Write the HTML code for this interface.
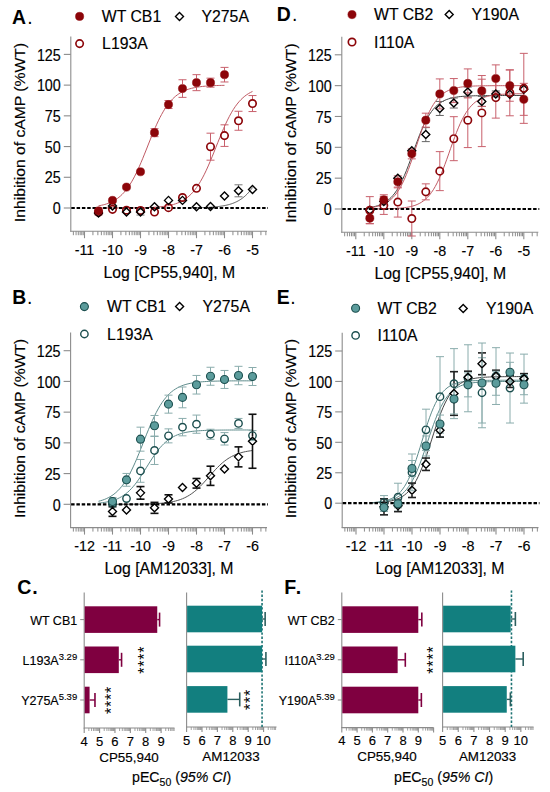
<!DOCTYPE html><html><head><meta charset="utf-8"><style>html,body{margin:0;padding:0;background:#fff;width:550px;height:792px;overflow:hidden}svg{display:block}</style></head><body><svg width="550" height="792" viewBox="0 0 550 792">
<rect width="550" height="792" fill="#fff"/>
<style>text{stroke:#000;stroke-width:0.15px}text.pl{stroke:none}</style>
<g font-family='"Liberation Sans", sans-serif' fill="#000">
<line x1="70.8" y1="36.5" x2="70.8" y2="231.7" stroke="#8c8c8c" stroke-width="1.1" />
<line x1="70.3" y1="231.2" x2="267" y2="231.2" stroke="#8c8c8c" stroke-width="1.1" />
<line x1="63.8" y1="208" x2="70.8" y2="208" stroke="#8c8c8c" stroke-width="1.1" />
<text transform="translate(60.8,214.2) scale(0.92,1)" font-size="15.6" text-anchor="end">0</text>
<line x1="63.8" y1="177.28" x2="70.8" y2="177.28" stroke="#8c8c8c" stroke-width="1.1" />
<text transform="translate(60.8,183.48) scale(0.92,1)" font-size="15.6" text-anchor="end">25</text>
<line x1="63.8" y1="146.56" x2="70.8" y2="146.56" stroke="#8c8c8c" stroke-width="1.1" />
<text transform="translate(60.8,152.76) scale(0.92,1)" font-size="15.6" text-anchor="end">50</text>
<line x1="63.8" y1="115.84" x2="70.8" y2="115.84" stroke="#8c8c8c" stroke-width="1.1" />
<text transform="translate(60.8,122.04) scale(0.92,1)" font-size="15.6" text-anchor="end">75</text>
<line x1="63.8" y1="85.12" x2="70.8" y2="85.12" stroke="#8c8c8c" stroke-width="1.1" />
<text transform="translate(60.8,91.32) scale(0.92,1)" font-size="15.6" text-anchor="end">100</text>
<line x1="63.8" y1="54.4" x2="70.8" y2="54.4" stroke="#8c8c8c" stroke-width="1.1" />
<text transform="translate(60.8,60.6) scale(0.92,1)" font-size="15.6" text-anchor="end">125</text>
<line x1="73.36" y1="231.2" x2="73.36" y2="235.2" stroke="#8c8c8c" stroke-width="1.0" />
<line x1="76.07" y1="231.2" x2="76.07" y2="235.2" stroke="#8c8c8c" stroke-width="1.0" />
<line x1="78.29" y1="231.2" x2="78.29" y2="235.2" stroke="#8c8c8c" stroke-width="1.0" />
<line x1="80.16" y1="231.2" x2="80.16" y2="235.2" stroke="#8c8c8c" stroke-width="1.0" />
<line x1="81.79" y1="231.2" x2="81.79" y2="235.2" stroke="#8c8c8c" stroke-width="1.0" />
<line x1="83.22" y1="231.2" x2="83.22" y2="235.2" stroke="#8c8c8c" stroke-width="1.0" />
<line x1="84.5" y1="231.2" x2="84.5" y2="238.2" stroke="#8c8c8c" stroke-width="1.1" />
<line x1="92.93" y1="231.2" x2="92.93" y2="235.2" stroke="#8c8c8c" stroke-width="1.0" />
<line x1="97.86" y1="231.2" x2="97.86" y2="235.2" stroke="#8c8c8c" stroke-width="1.0" />
<line x1="101.36" y1="231.2" x2="101.36" y2="235.2" stroke="#8c8c8c" stroke-width="1.0" />
<line x1="104.07" y1="231.2" x2="104.07" y2="235.2" stroke="#8c8c8c" stroke-width="1.0" />
<line x1="106.29" y1="231.2" x2="106.29" y2="235.2" stroke="#8c8c8c" stroke-width="1.0" />
<line x1="108.16" y1="231.2" x2="108.16" y2="235.2" stroke="#8c8c8c" stroke-width="1.0" />
<line x1="109.79" y1="231.2" x2="109.79" y2="235.2" stroke="#8c8c8c" stroke-width="1.0" />
<line x1="111.22" y1="231.2" x2="111.22" y2="235.2" stroke="#8c8c8c" stroke-width="1.0" />
<line x1="112.5" y1="231.2" x2="112.5" y2="238.2" stroke="#8c8c8c" stroke-width="1.1" />
<line x1="120.93" y1="231.2" x2="120.93" y2="235.2" stroke="#8c8c8c" stroke-width="1.0" />
<line x1="125.86" y1="231.2" x2="125.86" y2="235.2" stroke="#8c8c8c" stroke-width="1.0" />
<line x1="129.36" y1="231.2" x2="129.36" y2="235.2" stroke="#8c8c8c" stroke-width="1.0" />
<line x1="132.07" y1="231.2" x2="132.07" y2="235.2" stroke="#8c8c8c" stroke-width="1.0" />
<line x1="134.29" y1="231.2" x2="134.29" y2="235.2" stroke="#8c8c8c" stroke-width="1.0" />
<line x1="136.16" y1="231.2" x2="136.16" y2="235.2" stroke="#8c8c8c" stroke-width="1.0" />
<line x1="137.79" y1="231.2" x2="137.79" y2="235.2" stroke="#8c8c8c" stroke-width="1.0" />
<line x1="139.22" y1="231.2" x2="139.22" y2="235.2" stroke="#8c8c8c" stroke-width="1.0" />
<line x1="140.5" y1="231.2" x2="140.5" y2="238.2" stroke="#8c8c8c" stroke-width="1.1" />
<line x1="148.93" y1="231.2" x2="148.93" y2="235.2" stroke="#8c8c8c" stroke-width="1.0" />
<line x1="153.86" y1="231.2" x2="153.86" y2="235.2" stroke="#8c8c8c" stroke-width="1.0" />
<line x1="157.36" y1="231.2" x2="157.36" y2="235.2" stroke="#8c8c8c" stroke-width="1.0" />
<line x1="160.07" y1="231.2" x2="160.07" y2="235.2" stroke="#8c8c8c" stroke-width="1.0" />
<line x1="162.29" y1="231.2" x2="162.29" y2="235.2" stroke="#8c8c8c" stroke-width="1.0" />
<line x1="164.16" y1="231.2" x2="164.16" y2="235.2" stroke="#8c8c8c" stroke-width="1.0" />
<line x1="165.79" y1="231.2" x2="165.79" y2="235.2" stroke="#8c8c8c" stroke-width="1.0" />
<line x1="167.22" y1="231.2" x2="167.22" y2="235.2" stroke="#8c8c8c" stroke-width="1.0" />
<line x1="168.5" y1="231.2" x2="168.5" y2="238.2" stroke="#8c8c8c" stroke-width="1.1" />
<line x1="176.93" y1="231.2" x2="176.93" y2="235.2" stroke="#8c8c8c" stroke-width="1.0" />
<line x1="181.86" y1="231.2" x2="181.86" y2="235.2" stroke="#8c8c8c" stroke-width="1.0" />
<line x1="185.36" y1="231.2" x2="185.36" y2="235.2" stroke="#8c8c8c" stroke-width="1.0" />
<line x1="188.07" y1="231.2" x2="188.07" y2="235.2" stroke="#8c8c8c" stroke-width="1.0" />
<line x1="190.29" y1="231.2" x2="190.29" y2="235.2" stroke="#8c8c8c" stroke-width="1.0" />
<line x1="192.16" y1="231.2" x2="192.16" y2="235.2" stroke="#8c8c8c" stroke-width="1.0" />
<line x1="193.79" y1="231.2" x2="193.79" y2="235.2" stroke="#8c8c8c" stroke-width="1.0" />
<line x1="195.22" y1="231.2" x2="195.22" y2="235.2" stroke="#8c8c8c" stroke-width="1.0" />
<line x1="196.5" y1="231.2" x2="196.5" y2="238.2" stroke="#8c8c8c" stroke-width="1.1" />
<line x1="204.93" y1="231.2" x2="204.93" y2="235.2" stroke="#8c8c8c" stroke-width="1.0" />
<line x1="209.86" y1="231.2" x2="209.86" y2="235.2" stroke="#8c8c8c" stroke-width="1.0" />
<line x1="213.36" y1="231.2" x2="213.36" y2="235.2" stroke="#8c8c8c" stroke-width="1.0" />
<line x1="216.07" y1="231.2" x2="216.07" y2="235.2" stroke="#8c8c8c" stroke-width="1.0" />
<line x1="218.29" y1="231.2" x2="218.29" y2="235.2" stroke="#8c8c8c" stroke-width="1.0" />
<line x1="220.16" y1="231.2" x2="220.16" y2="235.2" stroke="#8c8c8c" stroke-width="1.0" />
<line x1="221.79" y1="231.2" x2="221.79" y2="235.2" stroke="#8c8c8c" stroke-width="1.0" />
<line x1="223.22" y1="231.2" x2="223.22" y2="235.2" stroke="#8c8c8c" stroke-width="1.0" />
<line x1="224.5" y1="231.2" x2="224.5" y2="238.2" stroke="#8c8c8c" stroke-width="1.1" />
<line x1="232.93" y1="231.2" x2="232.93" y2="235.2" stroke="#8c8c8c" stroke-width="1.0" />
<line x1="237.86" y1="231.2" x2="237.86" y2="235.2" stroke="#8c8c8c" stroke-width="1.0" />
<line x1="241.36" y1="231.2" x2="241.36" y2="235.2" stroke="#8c8c8c" stroke-width="1.0" />
<line x1="244.07" y1="231.2" x2="244.07" y2="235.2" stroke="#8c8c8c" stroke-width="1.0" />
<line x1="246.29" y1="231.2" x2="246.29" y2="235.2" stroke="#8c8c8c" stroke-width="1.0" />
<line x1="248.16" y1="231.2" x2="248.16" y2="235.2" stroke="#8c8c8c" stroke-width="1.0" />
<line x1="249.79" y1="231.2" x2="249.79" y2="235.2" stroke="#8c8c8c" stroke-width="1.0" />
<line x1="251.22" y1="231.2" x2="251.22" y2="235.2" stroke="#8c8c8c" stroke-width="1.0" />
<line x1="252.5" y1="231.2" x2="252.5" y2="238.2" stroke="#8c8c8c" stroke-width="1.1" />
<line x1="260.93" y1="231.2" x2="260.93" y2="235.2" stroke="#8c8c8c" stroke-width="1.0" />
<line x1="265.86" y1="231.2" x2="265.86" y2="235.2" stroke="#8c8c8c" stroke-width="1.0" />
<text transform="translate(84.5,254.7) scale(0.93,1)" font-size="15.4" text-anchor="middle">-11</text>
<text transform="translate(112.5,254.7) scale(0.93,1)" font-size="15.4" text-anchor="middle">-10</text>
<text transform="translate(140.5,254.7) scale(0.93,1)" font-size="15.4" text-anchor="middle">-9</text>
<text transform="translate(168.5,254.7) scale(0.93,1)" font-size="15.4" text-anchor="middle">-8</text>
<text transform="translate(196.5,254.7) scale(0.93,1)" font-size="15.4" text-anchor="middle">-7</text>
<text transform="translate(224.5,254.7) scale(0.93,1)" font-size="15.4" text-anchor="middle">-6</text>
<text transform="translate(252.5,254.7) scale(0.93,1)" font-size="15.4" text-anchor="middle">-5</text>
<text x="103.4" y="278" font-size="15.8" text-anchor="start" font-weight="normal" font-style="normal" >Log [CP55,940], M</text>
<text transform="translate(24.5,132.5) rotate(-90) scale(1,0.95)" font-size="15.7" text-anchor="middle">Inhibition of cAMP (%WT)</text>
<polyline points="98.5,207.99 100.42,207.99 102.35,207.99 104.28,207.99 106.2,207.99 108.12,207.98 110.05,207.98 111.97,207.98 113.9,207.97 115.83,207.97 117.75,207.96 119.67,207.96 121.6,207.95 123.53,207.94 125.45,207.93 127.38,207.92 129.3,207.9 131.22,207.89 133.15,207.87 135.08,207.84 137,207.82 138.92,207.79 140.85,207.75 142.78,207.71 144.7,207.66 146.62,207.6 148.55,207.53 150.47,207.45 152.4,207.35 154.33,207.24 156.25,207.11 158.17,206.96 160.1,206.79 162.03,206.58 163.95,206.34 165.88,206.06 167.8,205.74 169.73,205.36 171.65,204.92 173.58,204.4 175.5,203.81 177.42,203.12 179.35,202.32 181.27,201.39 183.2,200.33 185.12,199.11 187.05,197.72 188.98,196.12 190.9,194.32 192.83,192.27 194.75,189.97 196.67,187.4 198.6,184.54 200.52,181.39 202.45,177.95 204.38,174.22 206.3,170.21 208.23,165.96 210.15,161.49 212.08,156.84 214,152.08 215.92,147.25 217.85,142.41 219.78,137.63 221.7,132.96 223.62,128.45 225.55,124.16 227.47,120.1 229.4,116.32 231.33,112.82 233.25,109.62 235.17,106.71 237.1,104.09 239.03,101.74 240.95,99.65 242.88,97.8 244.8,96.17 246.72,94.74 248.65,93.49 250.58,92.4 252.5,91.45" fill="none" stroke="#c05a64" stroke-width="1.0"/>
<polyline points="190.9,207.85 191.67,207.84 192.44,207.82 193.21,207.81 193.98,207.8 194.75,207.79 195.52,207.77 196.29,207.76 197.06,207.74 197.83,207.73 198.6,207.71 199.37,207.69 200.14,207.67 200.91,207.65 201.68,207.63 202.45,207.6 203.22,207.58 203.99,207.55 204.76,207.52 205.53,207.49 206.3,207.45 207.07,207.42 207.84,207.38 208.61,207.34 209.38,207.3 210.15,207.25 210.92,207.2 211.69,207.15 212.46,207.1 213.23,207.04 214,206.97 214.77,206.91 215.54,206.84 216.31,206.76 217.08,206.68 217.85,206.6 218.62,206.51 219.39,206.41 220.16,206.31 220.93,206.2 221.7,206.08 222.47,205.96 223.24,205.83 224.01,205.69 224.78,205.54 225.55,205.38 226.32,205.22 227.09,205.04 227.86,204.85 228.63,204.65 229.4,204.44 230.17,204.21 230.94,203.97 231.71,203.72 232.48,203.45 233.25,203.16 234.02,202.86 234.79,202.54 235.56,202.2 236.33,201.84 237.1,201.46 237.87,201.05 238.64,200.63 239.41,200.18 240.18,199.7 240.95,199.2 241.72,198.66 242.49,198.1 243.26,197.51 244.03,196.89 244.8,196.23 245.57,195.54 246.34,194.81 247.11,194.05 247.88,193.25 248.65,192.4 249.42,191.52 250.19,190.6 250.96,189.63 251.73,188.62 252.5,187.56" fill="none" stroke="#555" stroke-width="1.0"/>
<polyline points="98.5,205.85 100.08,205.56 101.65,205.23 103.22,204.86 104.8,204.44 106.38,203.96 107.95,203.42 109.53,202.82 111.1,202.14 112.67,201.37 114.25,200.51 115.83,199.54 117.4,198.46 118.97,197.26 120.55,195.92 122.12,194.43 123.7,192.79 125.28,190.98 126.85,188.99 128.42,186.81 130,184.45 131.58,181.88 133.15,179.12 134.72,176.16 136.3,173.01 137.88,169.68 139.45,166.18 141.03,162.54 142.6,158.77 144.17,154.91 145.75,150.97 147.33,147 148.9,143.03 150.47,139.08 152.05,135.2 153.62,131.41 155.2,127.73 156.78,124.2 158.35,120.83 159.92,117.64 161.5,114.64 163.08,111.84 164.65,109.23 166.22,106.82 167.8,104.6 169.38,102.57 170.95,100.72 172.52,99.04 174.1,97.52 175.67,96.15 177.25,94.91 178.83,93.81 180.4,92.82 181.98,91.93 183.55,91.15 185.12,90.45 186.7,89.82 188.27,89.27 189.85,88.78 191.42,88.35 193,87.97 194.58,87.63 196.15,87.33 197.73,87.06 199.3,86.83 200.88,86.63 202.45,86.45 204.02,86.29 205.6,86.15 207.17,86.02 208.75,85.91 210.33,85.82 211.9,85.73 213.47,85.66 215.05,85.59 216.62,85.54 218.2,85.49 219.78,85.44 221.35,85.4 222.92,85.37 224.5,85.34" fill="none" stroke="#c05a64" stroke-width="1.0"/>
<line x1="71.3" y1="208" x2="268" y2="208" stroke="#000" stroke-width="2.2" stroke-dasharray="3.5 1.8"/>
<line x1="210.5" y1="133.18" x2="210.5" y2="142.16" stroke="#c8606c" stroke-width="1.0" />
<line x1="210.5" y1="151.21" x2="210.5" y2="160.18" stroke="#c8606c" stroke-width="1.0" />
<line x1="206.5" y1="133.18" x2="214.5" y2="133.18" stroke="#c8606c" stroke-width="1.0" />
<line x1="206.5" y1="160.18" x2="214.5" y2="160.18" stroke="#c8606c" stroke-width="1.0" />
<line x1="224.5" y1="124.82" x2="224.5" y2="131.1" stroke="#c8606c" stroke-width="1.0" />
<line x1="224.5" y1="140.15" x2="224.5" y2="146.42" stroke="#c8606c" stroke-width="1.0" />
<line x1="220.5" y1="124.82" x2="228.5" y2="124.82" stroke="#c8606c" stroke-width="1.0" />
<line x1="220.5" y1="146.42" x2="228.5" y2="146.42" stroke="#c8606c" stroke-width="1.0" />
<line x1="238.5" y1="111.26" x2="238.5" y2="116.23" stroke="#c8606c" stroke-width="1.0" />
<line x1="238.5" y1="125.28" x2="238.5" y2="130.26" stroke="#c8606c" stroke-width="1.0" />
<line x1="234.5" y1="111.26" x2="242.5" y2="111.26" stroke="#c8606c" stroke-width="1.0" />
<line x1="234.5" y1="130.26" x2="242.5" y2="130.26" stroke="#c8606c" stroke-width="1.0" />
<line x1="252.5" y1="95.55" x2="252.5" y2="99.03" stroke="#c8606c" stroke-width="1.0" />
<line x1="252.5" y1="108.08" x2="252.5" y2="111.55" stroke="#c8606c" stroke-width="1.0" />
<line x1="248.5" y1="95.55" x2="256.5" y2="95.55" stroke="#c8606c" stroke-width="1.0" />
<line x1="248.5" y1="111.55" x2="256.5" y2="111.55" stroke="#c8606c" stroke-width="1.0" />
<line x1="94.5" y1="210.92" x2="102.5" y2="210.92" stroke="#777" stroke-width="1.0" />
<line x1="94.5" y1="214.92" x2="102.5" y2="214.92" stroke="#777" stroke-width="1.0" />
<line x1="136.5" y1="209.06" x2="144.5" y2="209.06" stroke="#777" stroke-width="1.0" />
<line x1="136.5" y1="215.06" x2="144.5" y2="215.06" stroke="#777" stroke-width="1.0" />
<line x1="238.5" y1="184.8" x2="238.5" y2="186.1" stroke="#777" stroke-width="1.0" />
<line x1="238.5" y1="195.5" x2="238.5" y2="196.8" stroke="#777" stroke-width="1.0" />
<line x1="234.5" y1="184.8" x2="242.5" y2="184.8" stroke="#777" stroke-width="1.0" />
<line x1="234.5" y1="196.8" x2="242.5" y2="196.8" stroke="#777" stroke-width="1.0" />
<line x1="150.5" y1="128.67" x2="158.5" y2="128.67" stroke="#c8606c" stroke-width="1.0" />
<line x1="150.5" y1="136.67" x2="158.5" y2="136.67" stroke="#c8606c" stroke-width="1.0" />
<line x1="164.5" y1="100.54" x2="172.5" y2="100.54" stroke="#c8606c" stroke-width="1.0" />
<line x1="164.5" y1="108.54" x2="172.5" y2="108.54" stroke="#c8606c" stroke-width="1.0" />
<line x1="182.5" y1="79.76" x2="182.5" y2="84.21" stroke="#c8606c" stroke-width="1.0" />
<line x1="182.5" y1="92.91" x2="182.5" y2="97.36" stroke="#c8606c" stroke-width="1.0" />
<line x1="178.5" y1="79.76" x2="186.5" y2="79.76" stroke="#c8606c" stroke-width="1.0" />
<line x1="178.5" y1="97.36" x2="186.5" y2="97.36" stroke="#c8606c" stroke-width="1.0" />
<line x1="196.5" y1="74.66" x2="196.5" y2="78.31" stroke="#c8606c" stroke-width="1.0" />
<line x1="196.5" y1="87.01" x2="196.5" y2="90.66" stroke="#c8606c" stroke-width="1.0" />
<line x1="192.5" y1="74.66" x2="200.5" y2="74.66" stroke="#c8606c" stroke-width="1.0" />
<line x1="192.5" y1="90.66" x2="200.5" y2="90.66" stroke="#c8606c" stroke-width="1.0" />
<line x1="210.5" y1="78.16" x2="210.5" y2="78.31" stroke="#c8606c" stroke-width="1.0" />
<line x1="210.5" y1="87.01" x2="210.5" y2="87.16" stroke="#c8606c" stroke-width="1.0" />
<line x1="206.5" y1="78.16" x2="214.5" y2="78.16" stroke="#c8606c" stroke-width="1.0" />
<line x1="206.5" y1="87.16" x2="214.5" y2="87.16" stroke="#c8606c" stroke-width="1.0" />
<line x1="224.5" y1="67.38" x2="224.5" y2="70.33" stroke="#c8606c" stroke-width="1.0" />
<line x1="224.5" y1="79.03" x2="224.5" y2="81.98" stroke="#c8606c" stroke-width="1.0" />
<line x1="220.5" y1="67.38" x2="228.5" y2="67.38" stroke="#c8606c" stroke-width="1.0" />
<line x1="220.5" y1="81.98" x2="228.5" y2="81.98" stroke="#c8606c" stroke-width="1.0" />
<circle cx="98.5" cy="212.42" r="3.7" fill="none" stroke="#8c0509" stroke-width="1.65"/>
<circle cx="112.5" cy="209.35" r="3.7" fill="none" stroke="#8c0509" stroke-width="1.65"/>
<circle cx="126.5" cy="210.21" r="3.7" fill="none" stroke="#8c0509" stroke-width="1.65"/>
<circle cx="140.5" cy="210.46" r="3.7" fill="none" stroke="#8c0509" stroke-width="1.65"/>
<circle cx="154.5" cy="212.06" r="3.7" fill="none" stroke="#8c0509" stroke-width="1.65"/>
<circle cx="168.5" cy="207.63" r="3.7" fill="none" stroke="#8c0509" stroke-width="1.65"/>
<circle cx="182.5" cy="197.56" r="3.7" fill="none" stroke="#8c0509" stroke-width="1.65"/>
<circle cx="196.5" cy="188.34" r="3.7" fill="none" stroke="#8c0509" stroke-width="1.65"/>
<circle cx="210.5" cy="146.68" r="3.7" fill="none" stroke="#8c0509" stroke-width="1.65"/>
<circle cx="224.5" cy="135.62" r="3.7" fill="none" stroke="#8c0509" stroke-width="1.65"/>
<circle cx="238.5" cy="120.76" r="3.7" fill="none" stroke="#8c0509" stroke-width="1.65"/>
<circle cx="252.5" cy="103.55" r="3.7" fill="none" stroke="#8c0509" stroke-width="1.65"/>
<path d="M98.5 208.92 L102.5 212.92 L98.5 216.92 L94.5 212.92 Z" fill="none" stroke="#000" stroke-width="1.4"/>
<path d="M112.5 202.03 L116.5 206.03 L112.5 210.03 L108.5 206.03 Z" fill="none" stroke="#000" stroke-width="1.4"/>
<path d="M126.5 208.06 L130.5 212.06 L126.5 216.06 L122.5 212.06 Z" fill="none" stroke="#000" stroke-width="1.4"/>
<path d="M140.5 208.06 L144.5 212.06 L140.5 216.06 L136.5 212.06 Z" fill="none" stroke="#000" stroke-width="1.4"/>
<path d="M154.5 202.65 L158.5 206.65 L154.5 210.65 L150.5 206.65 Z" fill="none" stroke="#000" stroke-width="1.4"/>
<path d="M168.5 196.38 L172.5 200.38 L168.5 204.38 L164.5 200.38 Z" fill="none" stroke="#000" stroke-width="1.4"/>
<path d="M182.5 196.38 L186.5 200.38 L182.5 204.38 L178.5 200.38 Z" fill="none" stroke="#000" stroke-width="1.4"/>
<path d="M196.5 202.77 L200.5 206.77 L196.5 210.77 L192.5 206.77 Z" fill="none" stroke="#000" stroke-width="1.4"/>
<path d="M210.5 202.53 L214.5 206.53 L210.5 210.53 L206.5 206.53 Z" fill="none" stroke="#000" stroke-width="1.4"/>
<path d="M224.5 191.96 L228.5 195.96 L224.5 199.96 L220.5 195.96 Z" fill="none" stroke="#000" stroke-width="1.4"/>
<path d="M238.5 186.8 L242.5 190.8 L238.5 194.8 L234.5 190.8 Z" fill="none" stroke="#000" stroke-width="1.4"/>
<path d="M252.5 185.57 L256.5 189.57 L252.5 193.57 L248.5 189.57 Z" fill="none" stroke="#000" stroke-width="1.4"/>
<circle cx="98.5" cy="210.95" r="4.1" fill="#8c0509" stroke="#8c0509" stroke-width="0.5"/>
<circle cx="112.5" cy="200.38" r="4.1" fill="#8c0509" stroke="#8c0509" stroke-width="0.5"/>
<circle cx="126.5" cy="187.11" r="4.1" fill="#8c0509" stroke="#8c0509" stroke-width="0.5"/>
<circle cx="140.5" cy="171.75" r="4.1" fill="#8c0509" stroke="#8c0509" stroke-width="0.5"/>
<circle cx="154.5" cy="132.67" r="4.1" fill="#8c0509" stroke="#8c0509" stroke-width="0.5"/>
<circle cx="168.5" cy="104.54" r="4.1" fill="#8c0509" stroke="#8c0509" stroke-width="0.5"/>
<circle cx="182.5" cy="88.56" r="4.1" fill="#8c0509" stroke="#8c0509" stroke-width="0.5"/>
<circle cx="196.5" cy="82.66" r="4.1" fill="#8c0509" stroke="#8c0509" stroke-width="0.5"/>
<circle cx="210.5" cy="82.66" r="4.1" fill="#8c0509" stroke="#8c0509" stroke-width="0.5"/>
<circle cx="224.5" cy="74.68" r="4.1" fill="#8c0509" stroke="#8c0509" stroke-width="0.5"/>
<line x1="70.6" y1="332.5" x2="70.6" y2="528.1" stroke="#8c8c8c" stroke-width="1.1" />
<line x1="70.1" y1="527.6" x2="267" y2="527.6" stroke="#8c8c8c" stroke-width="1.1" />
<line x1="63.6" y1="504.3" x2="70.6" y2="504.3" stroke="#8c8c8c" stroke-width="1.1" />
<text transform="translate(60.6,510.5) scale(0.92,1)" font-size="15.6" text-anchor="end">0</text>
<line x1="63.6" y1="473.58" x2="70.6" y2="473.58" stroke="#8c8c8c" stroke-width="1.1" />
<text transform="translate(60.6,479.78) scale(0.92,1)" font-size="15.6" text-anchor="end">25</text>
<line x1="63.6" y1="442.86" x2="70.6" y2="442.86" stroke="#8c8c8c" stroke-width="1.1" />
<text transform="translate(60.6,449.06) scale(0.92,1)" font-size="15.6" text-anchor="end">50</text>
<line x1="63.6" y1="412.14" x2="70.6" y2="412.14" stroke="#8c8c8c" stroke-width="1.1" />
<text transform="translate(60.6,418.34) scale(0.92,1)" font-size="15.6" text-anchor="end">75</text>
<line x1="63.6" y1="381.42" x2="70.6" y2="381.42" stroke="#8c8c8c" stroke-width="1.1" />
<text transform="translate(60.6,387.62) scale(0.92,1)" font-size="15.6" text-anchor="end">100</text>
<line x1="63.6" y1="350.7" x2="70.6" y2="350.7" stroke="#8c8c8c" stroke-width="1.1" />
<text transform="translate(60.6,356.9) scale(0.92,1)" font-size="15.6" text-anchor="end">125</text>
<line x1="73.36" y1="527.6" x2="73.36" y2="531.6" stroke="#8c8c8c" stroke-width="1.0" />
<line x1="76.07" y1="527.6" x2="76.07" y2="531.6" stroke="#8c8c8c" stroke-width="1.0" />
<line x1="78.29" y1="527.6" x2="78.29" y2="531.6" stroke="#8c8c8c" stroke-width="1.0" />
<line x1="80.16" y1="527.6" x2="80.16" y2="531.6" stroke="#8c8c8c" stroke-width="1.0" />
<line x1="81.79" y1="527.6" x2="81.79" y2="531.6" stroke="#8c8c8c" stroke-width="1.0" />
<line x1="83.22" y1="527.6" x2="83.22" y2="531.6" stroke="#8c8c8c" stroke-width="1.0" />
<line x1="84.5" y1="527.6" x2="84.5" y2="534.6" stroke="#8c8c8c" stroke-width="1.1" />
<line x1="92.93" y1="527.6" x2="92.93" y2="531.6" stroke="#8c8c8c" stroke-width="1.0" />
<line x1="97.86" y1="527.6" x2="97.86" y2="531.6" stroke="#8c8c8c" stroke-width="1.0" />
<line x1="101.36" y1="527.6" x2="101.36" y2="531.6" stroke="#8c8c8c" stroke-width="1.0" />
<line x1="104.07" y1="527.6" x2="104.07" y2="531.6" stroke="#8c8c8c" stroke-width="1.0" />
<line x1="106.29" y1="527.6" x2="106.29" y2="531.6" stroke="#8c8c8c" stroke-width="1.0" />
<line x1="108.16" y1="527.6" x2="108.16" y2="531.6" stroke="#8c8c8c" stroke-width="1.0" />
<line x1="109.79" y1="527.6" x2="109.79" y2="531.6" stroke="#8c8c8c" stroke-width="1.0" />
<line x1="111.22" y1="527.6" x2="111.22" y2="531.6" stroke="#8c8c8c" stroke-width="1.0" />
<line x1="112.5" y1="527.6" x2="112.5" y2="534.6" stroke="#8c8c8c" stroke-width="1.1" />
<line x1="120.93" y1="527.6" x2="120.93" y2="531.6" stroke="#8c8c8c" stroke-width="1.0" />
<line x1="125.86" y1="527.6" x2="125.86" y2="531.6" stroke="#8c8c8c" stroke-width="1.0" />
<line x1="129.36" y1="527.6" x2="129.36" y2="531.6" stroke="#8c8c8c" stroke-width="1.0" />
<line x1="132.07" y1="527.6" x2="132.07" y2="531.6" stroke="#8c8c8c" stroke-width="1.0" />
<line x1="134.29" y1="527.6" x2="134.29" y2="531.6" stroke="#8c8c8c" stroke-width="1.0" />
<line x1="136.16" y1="527.6" x2="136.16" y2="531.6" stroke="#8c8c8c" stroke-width="1.0" />
<line x1="137.79" y1="527.6" x2="137.79" y2="531.6" stroke="#8c8c8c" stroke-width="1.0" />
<line x1="139.22" y1="527.6" x2="139.22" y2="531.6" stroke="#8c8c8c" stroke-width="1.0" />
<line x1="140.5" y1="527.6" x2="140.5" y2="534.6" stroke="#8c8c8c" stroke-width="1.1" />
<line x1="148.93" y1="527.6" x2="148.93" y2="531.6" stroke="#8c8c8c" stroke-width="1.0" />
<line x1="153.86" y1="527.6" x2="153.86" y2="531.6" stroke="#8c8c8c" stroke-width="1.0" />
<line x1="157.36" y1="527.6" x2="157.36" y2="531.6" stroke="#8c8c8c" stroke-width="1.0" />
<line x1="160.07" y1="527.6" x2="160.07" y2="531.6" stroke="#8c8c8c" stroke-width="1.0" />
<line x1="162.29" y1="527.6" x2="162.29" y2="531.6" stroke="#8c8c8c" stroke-width="1.0" />
<line x1="164.16" y1="527.6" x2="164.16" y2="531.6" stroke="#8c8c8c" stroke-width="1.0" />
<line x1="165.79" y1="527.6" x2="165.79" y2="531.6" stroke="#8c8c8c" stroke-width="1.0" />
<line x1="167.22" y1="527.6" x2="167.22" y2="531.6" stroke="#8c8c8c" stroke-width="1.0" />
<line x1="168.5" y1="527.6" x2="168.5" y2="534.6" stroke="#8c8c8c" stroke-width="1.1" />
<line x1="176.93" y1="527.6" x2="176.93" y2="531.6" stroke="#8c8c8c" stroke-width="1.0" />
<line x1="181.86" y1="527.6" x2="181.86" y2="531.6" stroke="#8c8c8c" stroke-width="1.0" />
<line x1="185.36" y1="527.6" x2="185.36" y2="531.6" stroke="#8c8c8c" stroke-width="1.0" />
<line x1="188.07" y1="527.6" x2="188.07" y2="531.6" stroke="#8c8c8c" stroke-width="1.0" />
<line x1="190.29" y1="527.6" x2="190.29" y2="531.6" stroke="#8c8c8c" stroke-width="1.0" />
<line x1="192.16" y1="527.6" x2="192.16" y2="531.6" stroke="#8c8c8c" stroke-width="1.0" />
<line x1="193.79" y1="527.6" x2="193.79" y2="531.6" stroke="#8c8c8c" stroke-width="1.0" />
<line x1="195.22" y1="527.6" x2="195.22" y2="531.6" stroke="#8c8c8c" stroke-width="1.0" />
<line x1="196.5" y1="527.6" x2="196.5" y2="534.6" stroke="#8c8c8c" stroke-width="1.1" />
<line x1="204.93" y1="527.6" x2="204.93" y2="531.6" stroke="#8c8c8c" stroke-width="1.0" />
<line x1="209.86" y1="527.6" x2="209.86" y2="531.6" stroke="#8c8c8c" stroke-width="1.0" />
<line x1="213.36" y1="527.6" x2="213.36" y2="531.6" stroke="#8c8c8c" stroke-width="1.0" />
<line x1="216.07" y1="527.6" x2="216.07" y2="531.6" stroke="#8c8c8c" stroke-width="1.0" />
<line x1="218.29" y1="527.6" x2="218.29" y2="531.6" stroke="#8c8c8c" stroke-width="1.0" />
<line x1="220.16" y1="527.6" x2="220.16" y2="531.6" stroke="#8c8c8c" stroke-width="1.0" />
<line x1="221.79" y1="527.6" x2="221.79" y2="531.6" stroke="#8c8c8c" stroke-width="1.0" />
<line x1="223.22" y1="527.6" x2="223.22" y2="531.6" stroke="#8c8c8c" stroke-width="1.0" />
<line x1="224.5" y1="527.6" x2="224.5" y2="534.6" stroke="#8c8c8c" stroke-width="1.1" />
<line x1="232.93" y1="527.6" x2="232.93" y2="531.6" stroke="#8c8c8c" stroke-width="1.0" />
<line x1="237.86" y1="527.6" x2="237.86" y2="531.6" stroke="#8c8c8c" stroke-width="1.0" />
<line x1="241.36" y1="527.6" x2="241.36" y2="531.6" stroke="#8c8c8c" stroke-width="1.0" />
<line x1="244.07" y1="527.6" x2="244.07" y2="531.6" stroke="#8c8c8c" stroke-width="1.0" />
<line x1="246.29" y1="527.6" x2="246.29" y2="531.6" stroke="#8c8c8c" stroke-width="1.0" />
<line x1="248.16" y1="527.6" x2="248.16" y2="531.6" stroke="#8c8c8c" stroke-width="1.0" />
<line x1="249.79" y1="527.6" x2="249.79" y2="531.6" stroke="#8c8c8c" stroke-width="1.0" />
<line x1="251.22" y1="527.6" x2="251.22" y2="531.6" stroke="#8c8c8c" stroke-width="1.0" />
<line x1="252.5" y1="527.6" x2="252.5" y2="534.6" stroke="#8c8c8c" stroke-width="1.1" />
<line x1="260.93" y1="527.6" x2="260.93" y2="531.6" stroke="#8c8c8c" stroke-width="1.0" />
<line x1="265.86" y1="527.6" x2="265.86" y2="531.6" stroke="#8c8c8c" stroke-width="1.0" />
<text transform="translate(84.5,551.1) scale(0.93,1)" font-size="15.4" text-anchor="middle">-12</text>
<text transform="translate(112.5,551.1) scale(0.93,1)" font-size="15.4" text-anchor="middle">-11</text>
<text transform="translate(140.5,551.1) scale(0.93,1)" font-size="15.4" text-anchor="middle">-10</text>
<text transform="translate(168.5,551.1) scale(0.93,1)" font-size="15.4" text-anchor="middle">-9</text>
<text transform="translate(196.5,551.1) scale(0.93,1)" font-size="15.4" text-anchor="middle">-8</text>
<text transform="translate(224.5,551.1) scale(0.93,1)" font-size="15.4" text-anchor="middle">-7</text>
<text transform="translate(252.5,551.1) scale(0.93,1)" font-size="15.4" text-anchor="middle">-6</text>
<text x="104.4" y="574.4" font-size="15.8" text-anchor="start" font-weight="normal" font-style="normal" >Log [AM12033], M</text>
<text transform="translate(24.5,428.3) rotate(-90) scale(1,0.95)" font-size="15.7" text-anchor="middle">Inhibition of cAMP (%WT)</text>
<polyline points="98.5,503.16 100.42,502.95 102.35,502.71 104.28,502.43 106.2,502.11 108.12,501.72 110.05,501.28 111.97,500.76 113.9,500.15 115.83,499.45 117.75,498.64 119.67,497.71 121.6,496.64 123.53,495.42 125.45,494.04 127.38,492.47 129.3,490.73 131.22,488.78 133.15,486.65 135.08,484.31 137,481.79 138.92,479.1 140.85,476.26 142.78,473.31 144.7,470.27 146.62,467.18 148.55,464.1 150.47,461.06 152.4,458.1 154.33,455.26 156.25,452.56 158.17,450.03 160.1,447.69 162.03,445.55 163.95,443.6 165.88,441.84 167.8,440.28 169.72,438.89 171.65,437.66 173.58,436.59 175.5,435.65 177.42,434.83 179.35,434.13 181.28,433.52 183.2,433 185.12,432.55 187.05,432.16 188.97,431.83 190.9,431.55 192.83,431.31 194.75,431.11 196.67,430.93 198.6,430.79 200.52,430.66 202.45,430.55 204.38,430.46 206.3,430.39 208.23,430.32 210.15,430.27 212.08,430.22 214,430.18 215.92,430.14 217.85,430.12 219.78,430.09 221.7,430.07 223.62,430.05 225.55,430.04 227.47,430.03 229.4,430.02 231.33,430.01 233.25,430 235.17,429.99 237.1,429.99 239.03,429.98 240.95,429.98 242.88,429.98 244.8,429.97 246.72,429.97 248.65,429.97 250.58,429.97 252.5,429.97" fill="none" stroke="#5f8c8c" stroke-width="1.0"/>
<polyline points="112.5,504.28 114.25,504.28 116,504.27 117.75,504.27 119.5,504.27 121.25,504.26 123,504.25 124.75,504.25 126.5,504.24 128.25,504.23 130,504.22 131.75,504.2 133.5,504.19 135.25,504.17 137,504.15 138.75,504.13 140.5,504.1 142.25,504.07 144,504.04 145.75,504 147.5,503.95 149.25,503.9 151,503.84 152.75,503.77 154.5,503.69 156.25,503.59 158,503.48 159.75,503.36 161.5,503.22 163.25,503.05 165,502.87 166.75,502.65 168.5,502.41 170.25,502.12 172,501.8 173.75,501.44 175.5,501.02 177.25,500.54 179,500.01 180.75,499.4 182.5,498.72 184.25,497.96 186,497.1 187.75,496.15 189.5,495.1 191.25,493.95 193,492.68 194.75,491.3 196.5,489.82 198.25,488.23 200,486.54 201.75,484.76 203.5,482.91 205.25,480.99 207,479.03 208.75,477.05 210.5,475.06 212.25,473.09 214,471.16 215.75,469.28 217.5,467.47 219.25,465.74 221,464.11 222.75,462.58 224.5,461.16 226.25,459.85 228,458.65 229.75,457.56 231.5,456.57 233.25,455.68 235,454.88 236.75,454.16 238.5,453.53 240.25,452.97 242,452.47 243.75,452.03 245.5,451.64 247.25,451.3 249,451.01 250.75,450.75 252.5,450.52" fill="none" stroke="#555" stroke-width="1.0"/>
<polyline points="98.5,501.27 100.42,500.77 102.35,500.18 104.28,499.51 106.2,498.72 108.12,497.81 110.05,496.77 111.97,495.57 113.9,494.19 115.83,492.62 117.75,490.84 119.67,488.82 121.6,486.55 123.53,484 125.45,481.17 127.38,478.05 129.3,474.63 131.22,470.92 133.15,466.92 135.08,462.67 137,458.2 138.92,453.54 140.85,448.75 142.78,443.89 144.7,439 146.62,434.16 148.55,429.43 150.47,424.85 152.4,420.47 154.33,416.33 156.25,412.47 158.17,408.88 160.1,405.6 162.03,402.61 163.95,399.91 165.88,397.49 167.8,395.34 169.72,393.43 171.65,391.74 173.58,390.26 175.5,388.97 177.42,387.84 179.35,386.86 181.28,386.01 183.2,385.28 185.12,384.64 187.05,384.1 188.97,383.63 190.9,383.22 192.83,382.87 194.75,382.58 196.67,382.32 198.6,382.1 200.52,381.91 202.45,381.75 204.38,381.61 206.3,381.5 208.23,381.4 210.15,381.31 212.08,381.24 214,381.17 215.92,381.12 217.85,381.07 219.78,381.03 221.7,381 223.62,380.97 225.55,380.95 227.47,380.93 229.4,380.91 231.33,380.89 233.25,380.88 235.17,380.87 237.1,380.86 239.03,380.85 240.95,380.85 242.88,380.84 244.8,380.83 246.72,380.83 248.65,380.83 250.58,380.82 252.5,380.82" fill="none" stroke="#5f8c8c" stroke-width="1.0"/>
<line x1="71.1" y1="504.3" x2="268" y2="504.3" stroke="#000" stroke-width="2.2" stroke-dasharray="3.5 1.8"/>
<line x1="140.5" y1="459.48" x2="140.5" y2="466.48" stroke="#8aacac" stroke-width="1.0" />
<line x1="140.5" y1="475.28" x2="140.5" y2="482.28" stroke="#8aacac" stroke-width="1.0" />
<line x1="136.5" y1="459.48" x2="144.5" y2="459.48" stroke="#8aacac" stroke-width="1.0" />
<line x1="136.5" y1="482.28" x2="144.5" y2="482.28" stroke="#8aacac" stroke-width="1.0" />
<line x1="154.5" y1="436.48" x2="154.5" y2="446.08" stroke="#8aacac" stroke-width="1.0" />
<line x1="154.5" y1="454.88" x2="154.5" y2="464.48" stroke="#8aacac" stroke-width="1.0" />
<line x1="150.5" y1="436.48" x2="158.5" y2="436.48" stroke="#8aacac" stroke-width="1.0" />
<line x1="150.5" y1="464.48" x2="158.5" y2="464.48" stroke="#8aacac" stroke-width="1.0" />
<line x1="168.5" y1="428.86" x2="168.5" y2="431.46" stroke="#8aacac" stroke-width="1.0" />
<line x1="168.5" y1="440.26" x2="168.5" y2="442.86" stroke="#8aacac" stroke-width="1.0" />
<line x1="164.5" y1="428.86" x2="172.5" y2="428.86" stroke="#8aacac" stroke-width="1.0" />
<line x1="164.5" y1="442.86" x2="172.5" y2="442.86" stroke="#8aacac" stroke-width="1.0" />
<line x1="182.5" y1="418.43" x2="182.5" y2="422.73" stroke="#8aacac" stroke-width="1.0" />
<line x1="182.5" y1="431.53" x2="182.5" y2="435.83" stroke="#8aacac" stroke-width="1.0" />
<line x1="178.5" y1="418.43" x2="186.5" y2="418.43" stroke="#8aacac" stroke-width="1.0" />
<line x1="178.5" y1="435.83" x2="186.5" y2="435.83" stroke="#8aacac" stroke-width="1.0" />
<line x1="196.5" y1="415.08" x2="196.5" y2="419.78" stroke="#8aacac" stroke-width="1.0" />
<line x1="196.5" y1="428.58" x2="196.5" y2="433.28" stroke="#8aacac" stroke-width="1.0" />
<line x1="192.5" y1="415.08" x2="200.5" y2="415.08" stroke="#8aacac" stroke-width="1.0" />
<line x1="192.5" y1="433.28" x2="200.5" y2="433.28" stroke="#8aacac" stroke-width="1.0" />
<line x1="210.5" y1="429.26" x2="210.5" y2="429.86" stroke="#8aacac" stroke-width="1.0" />
<line x1="210.5" y1="438.66" x2="210.5" y2="439.26" stroke="#8aacac" stroke-width="1.0" />
<line x1="206.5" y1="429.26" x2="214.5" y2="429.26" stroke="#8aacac" stroke-width="1.0" />
<line x1="206.5" y1="439.26" x2="214.5" y2="439.26" stroke="#8aacac" stroke-width="1.0" />
<line x1="224.5" y1="432.6" x2="224.5" y2="434.4" stroke="#8aacac" stroke-width="1.0" />
<line x1="224.5" y1="443.2" x2="224.5" y2="445" stroke="#8aacac" stroke-width="1.0" />
<line x1="220.5" y1="432.6" x2="228.5" y2="432.6" stroke="#8aacac" stroke-width="1.0" />
<line x1="220.5" y1="445" x2="228.5" y2="445" stroke="#8aacac" stroke-width="1.0" />
<line x1="238.5" y1="418.44" x2="238.5" y2="419.04" stroke="#8aacac" stroke-width="1.0" />
<line x1="238.5" y1="427.84" x2="238.5" y2="428.44" stroke="#8aacac" stroke-width="1.0" />
<line x1="234.5" y1="418.44" x2="242.5" y2="418.44" stroke="#8aacac" stroke-width="1.0" />
<line x1="234.5" y1="428.44" x2="242.5" y2="428.44" stroke="#8aacac" stroke-width="1.0" />
<line x1="252.5" y1="430.61" x2="252.5" y2="431.21" stroke="#8aacac" stroke-width="1.0" />
<line x1="252.5" y1="440.01" x2="252.5" y2="440.61" stroke="#8aacac" stroke-width="1.0" />
<line x1="248.5" y1="430.61" x2="256.5" y2="430.61" stroke="#8aacac" stroke-width="1.0" />
<line x1="248.5" y1="440.61" x2="256.5" y2="440.61" stroke="#8aacac" stroke-width="1.0" />
<line x1="112.5" y1="506.75" x2="112.5" y2="506.85" stroke="#111" stroke-width="1.6" />
<line x1="112.5" y1="516.25" x2="112.5" y2="516.35" stroke="#111" stroke-width="1.6" />
<line x1="108.5" y1="506.75" x2="116.5" y2="506.75" stroke="#111" stroke-width="1.6" />
<line x1="108.5" y1="516.35" x2="116.5" y2="516.35" stroke="#111" stroke-width="1.6" />
<line x1="140.5" y1="486.57" x2="140.5" y2="488.17" stroke="#111" stroke-width="1.6" />
<line x1="140.5" y1="497.57" x2="140.5" y2="499.17" stroke="#111" stroke-width="1.6" />
<line x1="136.5" y1="486.57" x2="144.5" y2="486.57" stroke="#111" stroke-width="1.6" />
<line x1="136.5" y1="499.17" x2="144.5" y2="499.17" stroke="#111" stroke-width="1.6" />
<line x1="154.5" y1="502.36" x2="154.5" y2="503.16" stroke="#111" stroke-width="1.6" />
<line x1="154.5" y1="512.56" x2="154.5" y2="513.36" stroke="#111" stroke-width="1.6" />
<line x1="150.5" y1="502.36" x2="158.5" y2="502.36" stroke="#111" stroke-width="1.6" />
<line x1="150.5" y1="513.36" x2="158.5" y2="513.36" stroke="#111" stroke-width="1.6" />
<line x1="164.5" y1="494.79" x2="172.5" y2="494.79" stroke="#111" stroke-width="1.6" />
<line x1="164.5" y1="502.99" x2="172.5" y2="502.99" stroke="#111" stroke-width="1.6" />
<line x1="196.5" y1="478.49" x2="196.5" y2="478.59" stroke="#111" stroke-width="1.6" />
<line x1="196.5" y1="487.99" x2="196.5" y2="488.09" stroke="#111" stroke-width="1.6" />
<line x1="192.5" y1="478.49" x2="200.5" y2="478.49" stroke="#111" stroke-width="1.6" />
<line x1="192.5" y1="488.09" x2="200.5" y2="488.09" stroke="#111" stroke-width="1.6" />
<line x1="210.5" y1="466.19" x2="210.5" y2="471.09" stroke="#111" stroke-width="1.6" />
<line x1="210.5" y1="480.49" x2="210.5" y2="485.39" stroke="#111" stroke-width="1.6" />
<line x1="206.5" y1="466.19" x2="214.5" y2="466.19" stroke="#111" stroke-width="1.6" />
<line x1="206.5" y1="485.39" x2="214.5" y2="485.39" stroke="#111" stroke-width="1.6" />
<line x1="238.5" y1="446.87" x2="238.5" y2="452.17" stroke="#111" stroke-width="1.6" />
<line x1="238.5" y1="461.57" x2="238.5" y2="466.87" stroke="#111" stroke-width="1.6" />
<line x1="234.5" y1="446.87" x2="242.5" y2="446.87" stroke="#111" stroke-width="1.6" />
<line x1="234.5" y1="466.87" x2="242.5" y2="466.87" stroke="#111" stroke-width="1.6" />
<line x1="252.5" y1="414.26" x2="252.5" y2="436.56" stroke="#111" stroke-width="1.6" />
<line x1="252.5" y1="445.96" x2="252.5" y2="468.26" stroke="#111" stroke-width="1.6" />
<line x1="248.5" y1="414.26" x2="256.5" y2="414.26" stroke="#111" stroke-width="1.6" />
<line x1="248.5" y1="468.26" x2="256.5" y2="468.26" stroke="#111" stroke-width="1.6" />
<line x1="108.5" y1="497.47" x2="116.5" y2="497.47" stroke="#8aacac" stroke-width="1.0" />
<line x1="108.5" y1="505.47" x2="116.5" y2="505.47" stroke="#8aacac" stroke-width="1.0" />
<line x1="126.5" y1="473.45" x2="126.5" y2="475.3" stroke="#8aacac" stroke-width="1.0" />
<line x1="126.5" y1="484.4" x2="126.5" y2="486.25" stroke="#8aacac" stroke-width="1.0" />
<line x1="122.5" y1="473.45" x2="130.5" y2="473.45" stroke="#8aacac" stroke-width="1.0" />
<line x1="122.5" y1="486.25" x2="130.5" y2="486.25" stroke="#8aacac" stroke-width="1.0" />
<line x1="140.5" y1="427.17" x2="140.5" y2="434.62" stroke="#8aacac" stroke-width="1.0" />
<line x1="140.5" y1="443.72" x2="140.5" y2="451.17" stroke="#8aacac" stroke-width="1.0" />
<line x1="136.5" y1="427.17" x2="144.5" y2="427.17" stroke="#8aacac" stroke-width="1.0" />
<line x1="136.5" y1="451.17" x2="144.5" y2="451.17" stroke="#8aacac" stroke-width="1.0" />
<line x1="154.5" y1="415.48" x2="154.5" y2="421.23" stroke="#8aacac" stroke-width="1.0" />
<line x1="154.5" y1="430.33" x2="154.5" y2="436.08" stroke="#8aacac" stroke-width="1.0" />
<line x1="150.5" y1="415.48" x2="158.5" y2="415.48" stroke="#8aacac" stroke-width="1.0" />
<line x1="150.5" y1="436.08" x2="158.5" y2="436.08" stroke="#8aacac" stroke-width="1.0" />
<line x1="168.5" y1="395.15" x2="168.5" y2="399.6" stroke="#8aacac" stroke-width="1.0" />
<line x1="168.5" y1="408.7" x2="168.5" y2="413.15" stroke="#8aacac" stroke-width="1.0" />
<line x1="164.5" y1="395.15" x2="172.5" y2="395.15" stroke="#8aacac" stroke-width="1.0" />
<line x1="164.5" y1="413.15" x2="172.5" y2="413.15" stroke="#8aacac" stroke-width="1.0" />
<line x1="182.5" y1="386.99" x2="182.5" y2="392.84" stroke="#8aacac" stroke-width="1.0" />
<line x1="182.5" y1="401.94" x2="182.5" y2="407.79" stroke="#8aacac" stroke-width="1.0" />
<line x1="178.5" y1="386.99" x2="186.5" y2="386.99" stroke="#8aacac" stroke-width="1.0" />
<line x1="178.5" y1="407.79" x2="186.5" y2="407.79" stroke="#8aacac" stroke-width="1.0" />
<line x1="196.5" y1="375.44" x2="196.5" y2="380.19" stroke="#8aacac" stroke-width="1.0" />
<line x1="196.5" y1="389.29" x2="196.5" y2="394.04" stroke="#8aacac" stroke-width="1.0" />
<line x1="192.5" y1="375.44" x2="200.5" y2="375.44" stroke="#8aacac" stroke-width="1.0" />
<line x1="192.5" y1="394.04" x2="200.5" y2="394.04" stroke="#8aacac" stroke-width="1.0" />
<line x1="210.5" y1="367.26" x2="210.5" y2="371.71" stroke="#8aacac" stroke-width="1.0" />
<line x1="210.5" y1="380.81" x2="210.5" y2="385.26" stroke="#8aacac" stroke-width="1.0" />
<line x1="206.5" y1="367.26" x2="214.5" y2="367.26" stroke="#8aacac" stroke-width="1.0" />
<line x1="206.5" y1="385.26" x2="214.5" y2="385.26" stroke="#8aacac" stroke-width="1.0" />
<line x1="224.5" y1="370.45" x2="224.5" y2="374.9" stroke="#8aacac" stroke-width="1.0" />
<line x1="224.5" y1="384" x2="224.5" y2="388.45" stroke="#8aacac" stroke-width="1.0" />
<line x1="220.5" y1="370.45" x2="228.5" y2="370.45" stroke="#8aacac" stroke-width="1.0" />
<line x1="220.5" y1="388.45" x2="228.5" y2="388.45" stroke="#8aacac" stroke-width="1.0" />
<line x1="238.5" y1="366.32" x2="238.5" y2="370.97" stroke="#8aacac" stroke-width="1.0" />
<line x1="238.5" y1="380.07" x2="238.5" y2="384.72" stroke="#8aacac" stroke-width="1.0" />
<line x1="234.5" y1="366.32" x2="242.5" y2="366.32" stroke="#8aacac" stroke-width="1.0" />
<line x1="234.5" y1="384.72" x2="242.5" y2="384.72" stroke="#8aacac" stroke-width="1.0" />
<line x1="252.5" y1="367.5" x2="252.5" y2="371.95" stroke="#8aacac" stroke-width="1.0" />
<line x1="252.5" y1="381.05" x2="252.5" y2="385.5" stroke="#8aacac" stroke-width="1.0" />
<line x1="248.5" y1="367.5" x2="256.5" y2="367.5" stroke="#8aacac" stroke-width="1.0" />
<line x1="248.5" y1="385.5" x2="256.5" y2="385.5" stroke="#8aacac" stroke-width="1.0" />
<circle cx="112.5" cy="503.69" r="3.7" fill="none" stroke="#1b4e4e" stroke-width="1.4"/>
<circle cx="126.5" cy="498.52" r="3.7" fill="none" stroke="#1b4e4e" stroke-width="1.4"/>
<circle cx="140.5" cy="470.88" r="3.7" fill="none" stroke="#1b4e4e" stroke-width="1.4"/>
<circle cx="154.5" cy="450.48" r="3.7" fill="none" stroke="#1b4e4e" stroke-width="1.4"/>
<circle cx="168.5" cy="435.86" r="3.7" fill="none" stroke="#1b4e4e" stroke-width="1.4"/>
<circle cx="182.5" cy="427.13" r="3.7" fill="none" stroke="#1b4e4e" stroke-width="1.4"/>
<circle cx="196.5" cy="424.18" r="3.7" fill="none" stroke="#1b4e4e" stroke-width="1.4"/>
<circle cx="210.5" cy="434.26" r="3.7" fill="none" stroke="#1b4e4e" stroke-width="1.4"/>
<circle cx="224.5" cy="438.8" r="3.7" fill="none" stroke="#1b4e4e" stroke-width="1.4"/>
<circle cx="238.5" cy="423.44" r="3.7" fill="none" stroke="#1b4e4e" stroke-width="1.4"/>
<circle cx="252.5" cy="435.61" r="3.7" fill="none" stroke="#1b4e4e" stroke-width="1.4"/>
<path d="M112.5 507.55 L116.5 511.55 L112.5 515.55 L108.5 511.55 Z" fill="none" stroke="#000" stroke-width="1.4"/>
<path d="M126.5 505.95 L130.5 509.95 L126.5 513.95 L122.5 509.95 Z" fill="none" stroke="#000" stroke-width="1.4"/>
<path d="M140.5 488.87 L144.5 492.87 L140.5 496.87 L136.5 492.87 Z" fill="none" stroke="#000" stroke-width="1.4"/>
<path d="M154.5 503.86 L158.5 507.86 L154.5 511.86 L150.5 507.86 Z" fill="none" stroke="#000" stroke-width="1.4"/>
<path d="M168.5 494.89 L172.5 498.89 L168.5 502.89 L164.5 498.89 Z" fill="none" stroke="#000" stroke-width="1.4"/>
<path d="M182.5 483.47 L186.5 487.47 L182.5 491.47 L178.5 487.47 Z" fill="none" stroke="#000" stroke-width="1.4"/>
<path d="M196.5 479.29 L200.5 483.29 L196.5 487.29 L192.5 483.29 Z" fill="none" stroke="#000" stroke-width="1.4"/>
<path d="M210.5 471.79 L214.5 475.79 L210.5 479.79 L206.5 475.79 Z" fill="none" stroke="#000" stroke-width="1.4"/>
<path d="M224.5 464.91 L228.5 468.91 L224.5 472.91 L220.5 468.91 Z" fill="none" stroke="#000" stroke-width="1.4"/>
<path d="M238.5 452.87 L242.5 456.87 L238.5 460.87 L234.5 456.87 Z" fill="none" stroke="#000" stroke-width="1.4"/>
<path d="M252.5 437.26 L256.5 441.26 L252.5 445.26 L248.5 441.26 Z" fill="none" stroke="#000" stroke-width="1.4"/>
<circle cx="112.5" cy="501.47" r="4.0" fill="#5c9c9c" stroke="#1b4e4e" stroke-width="1.1"/>
<circle cx="126.5" cy="479.85" r="4.0" fill="#5c9c9c" stroke="#1b4e4e" stroke-width="1.1"/>
<circle cx="140.5" cy="439.17" r="4.0" fill="#5c9c9c" stroke="#1b4e4e" stroke-width="1.1"/>
<circle cx="154.5" cy="425.78" r="4.0" fill="#5c9c9c" stroke="#1b4e4e" stroke-width="1.1"/>
<circle cx="168.5" cy="404.15" r="4.0" fill="#5c9c9c" stroke="#1b4e4e" stroke-width="1.1"/>
<circle cx="182.5" cy="397.39" r="4.0" fill="#5c9c9c" stroke="#1b4e4e" stroke-width="1.1"/>
<circle cx="196.5" cy="384.74" r="4.0" fill="#5c9c9c" stroke="#1b4e4e" stroke-width="1.1"/>
<circle cx="210.5" cy="376.26" r="4.0" fill="#5c9c9c" stroke="#1b4e4e" stroke-width="1.1"/>
<circle cx="224.5" cy="379.45" r="4.0" fill="#5c9c9c" stroke="#1b4e4e" stroke-width="1.1"/>
<circle cx="238.5" cy="375.52" r="4.0" fill="#5c9c9c" stroke="#1b4e4e" stroke-width="1.1"/>
<circle cx="252.5" cy="376.5" r="4.0" fill="#5c9c9c" stroke="#1b4e4e" stroke-width="1.1"/>
<line x1="341.8" y1="36.8" x2="341.8" y2="232.8" stroke="#8c8c8c" stroke-width="1.1" />
<line x1="341.3" y1="232.3" x2="538.3" y2="232.3" stroke="#8c8c8c" stroke-width="1.1" />
<line x1="334.8" y1="209" x2="341.8" y2="209" stroke="#8c8c8c" stroke-width="1.1" />
<text transform="translate(331.8,215.2) scale(0.92,1)" font-size="15.6" text-anchor="end">0</text>
<line x1="334.8" y1="178.16" x2="341.8" y2="178.16" stroke="#8c8c8c" stroke-width="1.1" />
<text transform="translate(331.8,184.36) scale(0.92,1)" font-size="15.6" text-anchor="end">25</text>
<line x1="334.8" y1="147.32" x2="341.8" y2="147.32" stroke="#8c8c8c" stroke-width="1.1" />
<text transform="translate(331.8,153.52) scale(0.92,1)" font-size="15.6" text-anchor="end">50</text>
<line x1="334.8" y1="116.48" x2="341.8" y2="116.48" stroke="#8c8c8c" stroke-width="1.1" />
<text transform="translate(331.8,122.68) scale(0.92,1)" font-size="15.6" text-anchor="end">75</text>
<line x1="334.8" y1="85.64" x2="341.8" y2="85.64" stroke="#8c8c8c" stroke-width="1.1" />
<text transform="translate(331.8,91.84) scale(0.92,1)" font-size="15.6" text-anchor="end">100</text>
<line x1="334.8" y1="54.8" x2="341.8" y2="54.8" stroke="#8c8c8c" stroke-width="1.1" />
<text transform="translate(331.8,61) scale(0.92,1)" font-size="15.6" text-anchor="end">125</text>
<line x1="344.66" y1="232.3" x2="344.66" y2="236.3" stroke="#8c8c8c" stroke-width="1.0" />
<line x1="347.37" y1="232.3" x2="347.37" y2="236.3" stroke="#8c8c8c" stroke-width="1.0" />
<line x1="349.59" y1="232.3" x2="349.59" y2="236.3" stroke="#8c8c8c" stroke-width="1.0" />
<line x1="351.46" y1="232.3" x2="351.46" y2="236.3" stroke="#8c8c8c" stroke-width="1.0" />
<line x1="353.09" y1="232.3" x2="353.09" y2="236.3" stroke="#8c8c8c" stroke-width="1.0" />
<line x1="354.52" y1="232.3" x2="354.52" y2="236.3" stroke="#8c8c8c" stroke-width="1.0" />
<line x1="355.8" y1="232.3" x2="355.8" y2="239.3" stroke="#8c8c8c" stroke-width="1.1" />
<line x1="364.23" y1="232.3" x2="364.23" y2="236.3" stroke="#8c8c8c" stroke-width="1.0" />
<line x1="369.16" y1="232.3" x2="369.16" y2="236.3" stroke="#8c8c8c" stroke-width="1.0" />
<line x1="372.66" y1="232.3" x2="372.66" y2="236.3" stroke="#8c8c8c" stroke-width="1.0" />
<line x1="375.37" y1="232.3" x2="375.37" y2="236.3" stroke="#8c8c8c" stroke-width="1.0" />
<line x1="377.59" y1="232.3" x2="377.59" y2="236.3" stroke="#8c8c8c" stroke-width="1.0" />
<line x1="379.46" y1="232.3" x2="379.46" y2="236.3" stroke="#8c8c8c" stroke-width="1.0" />
<line x1="381.09" y1="232.3" x2="381.09" y2="236.3" stroke="#8c8c8c" stroke-width="1.0" />
<line x1="382.52" y1="232.3" x2="382.52" y2="236.3" stroke="#8c8c8c" stroke-width="1.0" />
<line x1="383.8" y1="232.3" x2="383.8" y2="239.3" stroke="#8c8c8c" stroke-width="1.1" />
<line x1="392.23" y1="232.3" x2="392.23" y2="236.3" stroke="#8c8c8c" stroke-width="1.0" />
<line x1="397.16" y1="232.3" x2="397.16" y2="236.3" stroke="#8c8c8c" stroke-width="1.0" />
<line x1="400.66" y1="232.3" x2="400.66" y2="236.3" stroke="#8c8c8c" stroke-width="1.0" />
<line x1="403.37" y1="232.3" x2="403.37" y2="236.3" stroke="#8c8c8c" stroke-width="1.0" />
<line x1="405.59" y1="232.3" x2="405.59" y2="236.3" stroke="#8c8c8c" stroke-width="1.0" />
<line x1="407.46" y1="232.3" x2="407.46" y2="236.3" stroke="#8c8c8c" stroke-width="1.0" />
<line x1="409.09" y1="232.3" x2="409.09" y2="236.3" stroke="#8c8c8c" stroke-width="1.0" />
<line x1="410.52" y1="232.3" x2="410.52" y2="236.3" stroke="#8c8c8c" stroke-width="1.0" />
<line x1="411.8" y1="232.3" x2="411.8" y2="239.3" stroke="#8c8c8c" stroke-width="1.1" />
<line x1="420.23" y1="232.3" x2="420.23" y2="236.3" stroke="#8c8c8c" stroke-width="1.0" />
<line x1="425.16" y1="232.3" x2="425.16" y2="236.3" stroke="#8c8c8c" stroke-width="1.0" />
<line x1="428.66" y1="232.3" x2="428.66" y2="236.3" stroke="#8c8c8c" stroke-width="1.0" />
<line x1="431.37" y1="232.3" x2="431.37" y2="236.3" stroke="#8c8c8c" stroke-width="1.0" />
<line x1="433.59" y1="232.3" x2="433.59" y2="236.3" stroke="#8c8c8c" stroke-width="1.0" />
<line x1="435.46" y1="232.3" x2="435.46" y2="236.3" stroke="#8c8c8c" stroke-width="1.0" />
<line x1="437.09" y1="232.3" x2="437.09" y2="236.3" stroke="#8c8c8c" stroke-width="1.0" />
<line x1="438.52" y1="232.3" x2="438.52" y2="236.3" stroke="#8c8c8c" stroke-width="1.0" />
<line x1="439.8" y1="232.3" x2="439.8" y2="239.3" stroke="#8c8c8c" stroke-width="1.1" />
<line x1="448.23" y1="232.3" x2="448.23" y2="236.3" stroke="#8c8c8c" stroke-width="1.0" />
<line x1="453.16" y1="232.3" x2="453.16" y2="236.3" stroke="#8c8c8c" stroke-width="1.0" />
<line x1="456.66" y1="232.3" x2="456.66" y2="236.3" stroke="#8c8c8c" stroke-width="1.0" />
<line x1="459.37" y1="232.3" x2="459.37" y2="236.3" stroke="#8c8c8c" stroke-width="1.0" />
<line x1="461.59" y1="232.3" x2="461.59" y2="236.3" stroke="#8c8c8c" stroke-width="1.0" />
<line x1="463.46" y1="232.3" x2="463.46" y2="236.3" stroke="#8c8c8c" stroke-width="1.0" />
<line x1="465.09" y1="232.3" x2="465.09" y2="236.3" stroke="#8c8c8c" stroke-width="1.0" />
<line x1="466.52" y1="232.3" x2="466.52" y2="236.3" stroke="#8c8c8c" stroke-width="1.0" />
<line x1="467.8" y1="232.3" x2="467.8" y2="239.3" stroke="#8c8c8c" stroke-width="1.1" />
<line x1="476.23" y1="232.3" x2="476.23" y2="236.3" stroke="#8c8c8c" stroke-width="1.0" />
<line x1="481.16" y1="232.3" x2="481.16" y2="236.3" stroke="#8c8c8c" stroke-width="1.0" />
<line x1="484.66" y1="232.3" x2="484.66" y2="236.3" stroke="#8c8c8c" stroke-width="1.0" />
<line x1="487.37" y1="232.3" x2="487.37" y2="236.3" stroke="#8c8c8c" stroke-width="1.0" />
<line x1="489.59" y1="232.3" x2="489.59" y2="236.3" stroke="#8c8c8c" stroke-width="1.0" />
<line x1="491.46" y1="232.3" x2="491.46" y2="236.3" stroke="#8c8c8c" stroke-width="1.0" />
<line x1="493.09" y1="232.3" x2="493.09" y2="236.3" stroke="#8c8c8c" stroke-width="1.0" />
<line x1="494.52" y1="232.3" x2="494.52" y2="236.3" stroke="#8c8c8c" stroke-width="1.0" />
<line x1="495.8" y1="232.3" x2="495.8" y2="239.3" stroke="#8c8c8c" stroke-width="1.1" />
<line x1="504.23" y1="232.3" x2="504.23" y2="236.3" stroke="#8c8c8c" stroke-width="1.0" />
<line x1="509.16" y1="232.3" x2="509.16" y2="236.3" stroke="#8c8c8c" stroke-width="1.0" />
<line x1="512.66" y1="232.3" x2="512.66" y2="236.3" stroke="#8c8c8c" stroke-width="1.0" />
<line x1="515.37" y1="232.3" x2="515.37" y2="236.3" stroke="#8c8c8c" stroke-width="1.0" />
<line x1="517.59" y1="232.3" x2="517.59" y2="236.3" stroke="#8c8c8c" stroke-width="1.0" />
<line x1="519.46" y1="232.3" x2="519.46" y2="236.3" stroke="#8c8c8c" stroke-width="1.0" />
<line x1="521.09" y1="232.3" x2="521.09" y2="236.3" stroke="#8c8c8c" stroke-width="1.0" />
<line x1="522.52" y1="232.3" x2="522.52" y2="236.3" stroke="#8c8c8c" stroke-width="1.0" />
<line x1="523.8" y1="232.3" x2="523.8" y2="239.3" stroke="#8c8c8c" stroke-width="1.1" />
<line x1="532.23" y1="232.3" x2="532.23" y2="236.3" stroke="#8c8c8c" stroke-width="1.0" />
<line x1="537.16" y1="232.3" x2="537.16" y2="236.3" stroke="#8c8c8c" stroke-width="1.0" />
<text transform="translate(355.8,255.8) scale(0.93,1)" font-size="15.4" text-anchor="middle">-11</text>
<text transform="translate(383.8,255.8) scale(0.93,1)" font-size="15.4" text-anchor="middle">-10</text>
<text transform="translate(411.8,255.8) scale(0.93,1)" font-size="15.4" text-anchor="middle">-9</text>
<text transform="translate(439.8,255.8) scale(0.93,1)" font-size="15.4" text-anchor="middle">-8</text>
<text transform="translate(467.8,255.8) scale(0.93,1)" font-size="15.4" text-anchor="middle">-7</text>
<text transform="translate(495.8,255.8) scale(0.93,1)" font-size="15.4" text-anchor="middle">-6</text>
<text transform="translate(523.8,255.8) scale(0.93,1)" font-size="15.4" text-anchor="middle">-5</text>
<text x="374.5" y="279.1" font-size="15.8" text-anchor="start" font-weight="normal" font-style="normal" >Log [CP55,940], M</text>
<text transform="translate(295.5,133) rotate(-90) scale(1,0.95)" font-size="15.7" text-anchor="middle">Inhibition of cAMP (%WT)</text>
<polyline points="369.8,207.45 371.73,207.14 373.65,206.75 375.58,206.3 377.5,205.75 379.43,205.09 381.35,204.31 383.27,203.37 385.2,202.26 387.12,200.95 389.05,199.41 390.98,197.61 392.9,195.51 394.83,193.08 396.75,190.3 398.68,187.14 400.6,183.6 402.52,179.65 404.45,175.34 406.38,170.67 408.3,165.71 410.23,160.52 412.15,155.19 414.08,149.81 416,144.46 417.93,139.26 419.85,134.28 421.77,129.58 423.7,125.23 425.62,121.26 427.55,117.67 429.48,114.48 431.4,111.66 433.33,109.21 435.25,107.08 437.18,105.25 439.1,103.68 441.03,102.35 442.95,101.23 444.88,100.28 446.8,99.49 448.73,98.82 450.65,98.26 452.57,97.79 454.5,97.4 456.43,97.08 458.35,96.81 460.28,96.59 462.2,96.4 464.12,96.25 466.05,96.12 467.98,96.02 469.9,95.93 471.82,95.86 473.75,95.8 475.68,95.75 477.6,95.71 479.53,95.67 481.45,95.64 483.38,95.62 485.3,95.6 487.23,95.59 489.15,95.57 491.08,95.56 493,95.55 494.93,95.54 496.85,95.54 498.77,95.53 500.7,95.53 502.62,95.53 504.55,95.52 506.48,95.52 508.4,95.52 510.33,95.52 512.25,95.52 514.17,95.51 516.1,95.51 518.02,95.51 519.95,95.51 521.88,95.51 523.8,95.51" fill="none" stroke="#444" stroke-width="1.0"/>
<polyline points="369.8,207.72 371.73,207.46 373.65,207.14 375.58,206.76 377.5,206.3 379.43,205.75 381.35,205.09 383.27,204.3 385.2,203.37 387.12,202.25 389.05,200.93 390.98,199.38 392.9,197.55 394.83,195.42 396.75,192.94 398.68,190.1 400.6,186.86 402.52,183.19 404.45,179.1 406.38,174.59 408.3,169.69 410.23,164.43 412.15,158.9 414.08,153.16 416,147.32 417.93,141.48 419.85,135.74 421.77,130.21 423.7,124.95 425.62,120.05 427.55,115.54 429.48,111.45 431.4,107.78 433.33,104.54 435.25,101.7 437.18,99.22 439.1,97.09 441.03,95.26 442.95,93.71 444.88,92.39 446.8,91.27 448.73,90.34 450.65,89.55 452.57,88.89 454.5,88.34 456.43,87.88 458.35,87.5 460.28,87.18 462.2,86.92 464.12,86.7 466.05,86.52 467.98,86.37 469.9,86.24 471.82,86.14 473.75,86.05 475.68,85.98 477.6,85.92 479.53,85.87 481.45,85.83 483.38,85.8 485.3,85.77 487.23,85.75 489.15,85.73 491.08,85.71 493,85.7 494.93,85.69 496.85,85.68 498.77,85.67 500.7,85.67 502.62,85.66 504.55,85.66 506.48,85.66 508.4,85.65 510.33,85.65 512.25,85.65 514.17,85.65 516.1,85.65 518.02,85.65 519.95,85.64 521.88,85.64 523.8,85.64" fill="none" stroke="#c05a64" stroke-width="1.0"/>
<polyline points="369.8,208.96 371.73,208.95 373.65,208.94 375.58,208.92 377.5,208.91 379.43,208.89 381.35,208.86 383.27,208.83 385.2,208.8 387.12,208.76 389.05,208.71 390.98,208.65 392.9,208.57 394.83,208.48 396.75,208.38 398.68,208.25 400.6,208.09 402.52,207.9 404.45,207.68 406.38,207.4 408.3,207.07 410.23,206.68 412.15,206.21 414.08,205.64 416,204.96 417.93,204.15 419.85,203.19 421.77,202.04 423.7,200.69 425.62,199.1 427.55,197.24 429.48,195.08 431.4,192.58 433.33,189.72 435.25,186.48 437.18,182.83 439.1,178.79 441.03,174.37 442.95,169.6 444.88,164.54 446.8,159.25 448.73,153.82 450.65,148.34 452.57,142.92 454.5,137.65 456.43,132.61 458.35,127.87 460.28,123.48 462.2,119.48 464.12,115.87 466.05,112.66 467.98,109.83 469.9,107.37 471.82,105.23 473.75,103.4 475.68,101.83 477.6,100.5 479.53,99.38 481.45,98.43 483.38,97.63 485.3,96.96 487.23,96.41 489.15,95.94 491.08,95.55 493,95.23 494.93,94.96 496.85,94.74 498.77,94.55 500.7,94.4 502.62,94.27 504.55,94.17 506.48,94.08 508.4,94.01 510.33,93.95 512.25,93.9 514.17,93.86 516.1,93.82 518.02,93.79 519.95,93.77 521.88,93.75 523.8,93.73" fill="none" stroke="#c05a64" stroke-width="1.0"/>
<line x1="342.3" y1="209" x2="539.3" y2="209" stroke="#000" stroke-width="2.2" stroke-dasharray="3.5 1.8"/>
<line x1="425.8" y1="127.61" x2="425.8" y2="129.91" stroke="#666" stroke-width="1.0" />
<line x1="425.8" y1="139.31" x2="425.8" y2="141.61" stroke="#666" stroke-width="1.0" />
<line x1="421.8" y1="127.61" x2="429.8" y2="127.61" stroke="#666" stroke-width="1.0" />
<line x1="421.8" y1="141.61" x2="429.8" y2="141.61" stroke="#666" stroke-width="1.0" />
<line x1="439.8" y1="101.46" x2="439.8" y2="103.76" stroke="#666" stroke-width="1.0" />
<line x1="439.8" y1="113.16" x2="439.8" y2="115.46" stroke="#666" stroke-width="1.0" />
<line x1="435.8" y1="101.46" x2="443.8" y2="101.46" stroke="#666" stroke-width="1.0" />
<line x1="435.8" y1="115.46" x2="443.8" y2="115.46" stroke="#666" stroke-width="1.0" />
<line x1="453.8" y1="98.03" x2="453.8" y2="98.33" stroke="#666" stroke-width="1.0" />
<line x1="453.8" y1="107.73" x2="453.8" y2="108.03" stroke="#666" stroke-width="1.0" />
<line x1="449.8" y1="98.03" x2="457.8" y2="98.03" stroke="#666" stroke-width="1.0" />
<line x1="449.8" y1="108.03" x2="457.8" y2="108.03" stroke="#666" stroke-width="1.0" />
<line x1="467.8" y1="87.05" x2="467.8" y2="87.35" stroke="#666" stroke-width="1.0" />
<line x1="467.8" y1="96.75" x2="467.8" y2="97.05" stroke="#666" stroke-width="1.0" />
<line x1="463.8" y1="87.05" x2="471.8" y2="87.05" stroke="#666" stroke-width="1.0" />
<line x1="463.8" y1="97.05" x2="471.8" y2="97.05" stroke="#666" stroke-width="1.0" />
<line x1="481.8" y1="96.43" x2="481.8" y2="96.73" stroke="#666" stroke-width="1.0" />
<line x1="481.8" y1="106.13" x2="481.8" y2="106.43" stroke="#666" stroke-width="1.0" />
<line x1="477.8" y1="96.43" x2="485.8" y2="96.43" stroke="#666" stroke-width="1.0" />
<line x1="477.8" y1="106.43" x2="485.8" y2="106.43" stroke="#666" stroke-width="1.0" />
<line x1="491.8" y1="90.91" x2="499.8" y2="90.91" stroke="#666" stroke-width="1.0" />
<line x1="491.8" y1="96.91" x2="499.8" y2="96.91" stroke="#666" stroke-width="1.0" />
<line x1="369.8" y1="212.73" x2="369.8" y2="213.78" stroke="#c8606c" stroke-width="1.0" />
<line x1="369.8" y1="222.48" x2="369.8" y2="223.53" stroke="#c8606c" stroke-width="1.0" />
<line x1="365.8" y1="212.73" x2="373.8" y2="212.73" stroke="#c8606c" stroke-width="1.0" />
<line x1="365.8" y1="223.53" x2="373.8" y2="223.53" stroke="#c8606c" stroke-width="1.0" />
<line x1="383.8" y1="194.75" x2="383.8" y2="195.4" stroke="#c8606c" stroke-width="1.0" />
<line x1="383.8" y1="204.1" x2="383.8" y2="204.75" stroke="#c8606c" stroke-width="1.0" />
<line x1="379.8" y1="194.75" x2="387.8" y2="194.75" stroke="#c8606c" stroke-width="1.0" />
<line x1="379.8" y1="204.75" x2="387.8" y2="204.75" stroke="#c8606c" stroke-width="1.0" />
<line x1="397.8" y1="175.86" x2="397.8" y2="177.51" stroke="#c8606c" stroke-width="1.0" />
<line x1="397.8" y1="186.21" x2="397.8" y2="187.86" stroke="#c8606c" stroke-width="1.0" />
<line x1="393.8" y1="175.86" x2="401.8" y2="175.86" stroke="#c8606c" stroke-width="1.0" />
<line x1="393.8" y1="187.86" x2="401.8" y2="187.86" stroke="#c8606c" stroke-width="1.0" />
<line x1="411.8" y1="148.86" x2="411.8" y2="149.51" stroke="#c8606c" stroke-width="1.0" />
<line x1="411.8" y1="158.21" x2="411.8" y2="158.86" stroke="#c8606c" stroke-width="1.0" />
<line x1="407.8" y1="148.86" x2="415.8" y2="148.86" stroke="#c8606c" stroke-width="1.0" />
<line x1="407.8" y1="158.86" x2="415.8" y2="158.86" stroke="#c8606c" stroke-width="1.0" />
<line x1="425.8" y1="113.18" x2="425.8" y2="115.83" stroke="#c8606c" stroke-width="1.0" />
<line x1="425.8" y1="124.53" x2="425.8" y2="127.18" stroke="#c8606c" stroke-width="1.0" />
<line x1="421.8" y1="113.18" x2="429.8" y2="113.18" stroke="#c8606c" stroke-width="1.0" />
<line x1="421.8" y1="127.18" x2="429.8" y2="127.18" stroke="#c8606c" stroke-width="1.0" />
<line x1="439.8" y1="78.91" x2="439.8" y2="89.56" stroke="#c8606c" stroke-width="1.0" />
<line x1="439.8" y1="98.26" x2="439.8" y2="108.91" stroke="#c8606c" stroke-width="1.0" />
<line x1="435.8" y1="78.91" x2="443.8" y2="78.91" stroke="#c8606c" stroke-width="1.0" />
<line x1="435.8" y1="108.91" x2="443.8" y2="108.91" stroke="#c8606c" stroke-width="1.0" />
<line x1="453.8" y1="78.57" x2="453.8" y2="86.22" stroke="#c8606c" stroke-width="1.0" />
<line x1="453.8" y1="94.92" x2="453.8" y2="102.57" stroke="#c8606c" stroke-width="1.0" />
<line x1="449.8" y1="78.57" x2="457.8" y2="78.57" stroke="#c8606c" stroke-width="1.0" />
<line x1="449.8" y1="102.57" x2="457.8" y2="102.57" stroke="#c8606c" stroke-width="1.0" />
<line x1="467.8" y1="68.92" x2="467.8" y2="79.07" stroke="#c8606c" stroke-width="1.0" />
<line x1="467.8" y1="87.77" x2="467.8" y2="97.92" stroke="#c8606c" stroke-width="1.0" />
<line x1="463.8" y1="68.92" x2="471.8" y2="68.92" stroke="#c8606c" stroke-width="1.0" />
<line x1="463.8" y1="97.92" x2="471.8" y2="97.92" stroke="#c8606c" stroke-width="1.0" />
<line x1="481.8" y1="75.54" x2="481.8" y2="86.59" stroke="#c8606c" stroke-width="1.0" />
<line x1="481.8" y1="95.29" x2="481.8" y2="106.34" stroke="#c8606c" stroke-width="1.0" />
<line x1="477.8" y1="75.54" x2="485.8" y2="75.54" stroke="#c8606c" stroke-width="1.0" />
<line x1="477.8" y1="106.34" x2="485.8" y2="106.34" stroke="#c8606c" stroke-width="1.0" />
<line x1="495.8" y1="64.89" x2="495.8" y2="74.14" stroke="#c8606c" stroke-width="1.0" />
<line x1="495.8" y1="82.84" x2="495.8" y2="92.09" stroke="#c8606c" stroke-width="1.0" />
<line x1="491.8" y1="64.89" x2="499.8" y2="64.89" stroke="#c8606c" stroke-width="1.0" />
<line x1="491.8" y1="92.09" x2="499.8" y2="92.09" stroke="#c8606c" stroke-width="1.0" />
<line x1="509.8" y1="70.04" x2="509.8" y2="81.29" stroke="#c8606c" stroke-width="1.0" />
<line x1="509.8" y1="89.99" x2="509.8" y2="101.24" stroke="#c8606c" stroke-width="1.0" />
<line x1="505.8" y1="70.04" x2="513.8" y2="70.04" stroke="#c8606c" stroke-width="1.0" />
<line x1="505.8" y1="101.24" x2="513.8" y2="101.24" stroke="#c8606c" stroke-width="1.0" />
<line x1="523.8" y1="83.33" x2="523.8" y2="94.98" stroke="#c8606c" stroke-width="1.0" />
<line x1="523.8" y1="103.68" x2="523.8" y2="115.33" stroke="#c8606c" stroke-width="1.0" />
<line x1="519.8" y1="83.33" x2="527.8" y2="83.33" stroke="#c8606c" stroke-width="1.0" />
<line x1="519.8" y1="115.33" x2="527.8" y2="115.33" stroke="#c8606c" stroke-width="1.0" />
<line x1="369.8" y1="196.63" x2="369.8" y2="205.71" stroke="#c8606c" stroke-width="1.0" />
<line x1="369.8" y1="214.76" x2="369.8" y2="223.83" stroke="#c8606c" stroke-width="1.0" />
<line x1="365.8" y1="196.63" x2="373.8" y2="196.63" stroke="#c8606c" stroke-width="1.0" />
<line x1="365.8" y1="223.83" x2="373.8" y2="223.83" stroke="#c8606c" stroke-width="1.0" />
<line x1="383.8" y1="196.42" x2="383.8" y2="200.9" stroke="#c8606c" stroke-width="1.0" />
<line x1="383.8" y1="209.95" x2="383.8" y2="214.42" stroke="#c8606c" stroke-width="1.0" />
<line x1="379.8" y1="196.42" x2="387.8" y2="196.42" stroke="#c8606c" stroke-width="1.0" />
<line x1="379.8" y1="214.42" x2="387.8" y2="214.42" stroke="#c8606c" stroke-width="1.0" />
<line x1="397.8" y1="187.09" x2="397.8" y2="197.57" stroke="#c8606c" stroke-width="1.0" />
<line x1="397.8" y1="206.62" x2="397.8" y2="217.09" stroke="#c8606c" stroke-width="1.0" />
<line x1="393.8" y1="187.09" x2="401.8" y2="187.09" stroke="#c8606c" stroke-width="1.0" />
<line x1="393.8" y1="217.09" x2="401.8" y2="217.09" stroke="#c8606c" stroke-width="1.0" />
<line x1="411.8" y1="201" x2="411.8" y2="213.97" stroke="#c8606c" stroke-width="1.0" />
<line x1="411.8" y1="223.02" x2="411.8" y2="236" stroke="#c8606c" stroke-width="1.0" />
<line x1="407.8" y1="201" x2="415.8" y2="201" stroke="#c8606c" stroke-width="1.0" />
<line x1="407.8" y1="236" x2="415.8" y2="236" stroke="#c8606c" stroke-width="1.0" />
<line x1="425.8" y1="183.85" x2="425.8" y2="187.33" stroke="#c8606c" stroke-width="1.0" />
<line x1="425.8" y1="196.38" x2="425.8" y2="199.85" stroke="#c8606c" stroke-width="1.0" />
<line x1="421.8" y1="183.85" x2="429.8" y2="183.85" stroke="#c8606c" stroke-width="1.0" />
<line x1="421.8" y1="199.85" x2="429.8" y2="199.85" stroke="#c8606c" stroke-width="1.0" />
<line x1="439.8" y1="151.63" x2="439.8" y2="166.6" stroke="#c8606c" stroke-width="1.0" />
<line x1="439.8" y1="175.65" x2="439.8" y2="190.63" stroke="#c8606c" stroke-width="1.0" />
<line x1="435.8" y1="151.63" x2="443.8" y2="151.63" stroke="#c8606c" stroke-width="1.0" />
<line x1="435.8" y1="190.63" x2="443.8" y2="190.63" stroke="#c8606c" stroke-width="1.0" />
<line x1="453.8" y1="116.68" x2="453.8" y2="134.16" stroke="#c8606c" stroke-width="1.0" />
<line x1="453.8" y1="143.21" x2="453.8" y2="160.68" stroke="#c8606c" stroke-width="1.0" />
<line x1="449.8" y1="116.68" x2="457.8" y2="116.68" stroke="#c8606c" stroke-width="1.0" />
<line x1="449.8" y1="160.68" x2="457.8" y2="160.68" stroke="#c8606c" stroke-width="1.0" />
<line x1="467.8" y1="92.78" x2="467.8" y2="115.66" stroke="#c8606c" stroke-width="1.0" />
<line x1="467.8" y1="124.71" x2="467.8" y2="147.58" stroke="#c8606c" stroke-width="1.0" />
<line x1="463.8" y1="92.78" x2="471.8" y2="92.78" stroke="#c8606c" stroke-width="1.0" />
<line x1="463.8" y1="147.58" x2="471.8" y2="147.58" stroke="#c8606c" stroke-width="1.0" />
<line x1="481.8" y1="79.2" x2="481.8" y2="108.38" stroke="#c8606c" stroke-width="1.0" />
<line x1="481.8" y1="117.43" x2="481.8" y2="146.6" stroke="#c8606c" stroke-width="1.0" />
<line x1="477.8" y1="79.2" x2="485.8" y2="79.2" stroke="#c8606c" stroke-width="1.0" />
<line x1="477.8" y1="146.6" x2="485.8" y2="146.6" stroke="#c8606c" stroke-width="1.0" />
<line x1="495.8" y1="77.11" x2="495.8" y2="93.08" stroke="#c8606c" stroke-width="1.0" />
<line x1="495.8" y1="102.13" x2="495.8" y2="118.11" stroke="#c8606c" stroke-width="1.0" />
<line x1="491.8" y1="77.11" x2="499.8" y2="77.11" stroke="#c8606c" stroke-width="1.0" />
<line x1="491.8" y1="118.11" x2="499.8" y2="118.11" stroke="#c8606c" stroke-width="1.0" />
<line x1="509.8" y1="69.79" x2="509.8" y2="88.27" stroke="#c8606c" stroke-width="1.0" />
<line x1="509.8" y1="97.32" x2="509.8" y2="115.79" stroke="#c8606c" stroke-width="1.0" />
<line x1="505.8" y1="69.79" x2="513.8" y2="69.79" stroke="#c8606c" stroke-width="1.0" />
<line x1="505.8" y1="115.79" x2="513.8" y2="115.79" stroke="#c8606c" stroke-width="1.0" />
<line x1="523.8" y1="53.35" x2="523.8" y2="83.83" stroke="#c8606c" stroke-width="1.0" />
<line x1="523.8" y1="92.88" x2="523.8" y2="123.35" stroke="#c8606c" stroke-width="1.0" />
<line x1="519.8" y1="53.35" x2="527.8" y2="53.35" stroke="#c8606c" stroke-width="1.0" />
<line x1="519.8" y1="123.35" x2="527.8" y2="123.35" stroke="#c8606c" stroke-width="1.0" />
<path d="M369.8 206.23 L373.8 210.23 L369.8 214.23 L365.8 210.23 Z" fill="none" stroke="#000" stroke-width="1.4"/>
<path d="M383.8 197.6 L387.8 201.6 L383.8 205.6 L379.8 201.6 Z" fill="none" stroke="#000" stroke-width="1.4"/>
<path d="M397.8 174.16 L401.8 178.16 L397.8 182.16 L393.8 178.16 Z" fill="none" stroke="#000" stroke-width="1.4"/>
<path d="M411.8 146.65 L415.8 150.65 L411.8 154.65 L407.8 150.65 Z" fill="none" stroke="#000" stroke-width="1.4"/>
<path d="M425.8 130.61 L429.8 134.61 L425.8 138.61 L421.8 134.61 Z" fill="none" stroke="#000" stroke-width="1.4"/>
<path d="M439.8 104.46 L443.8 108.46 L439.8 112.46 L435.8 108.46 Z" fill="none" stroke="#000" stroke-width="1.4"/>
<path d="M453.8 99.03 L457.8 103.03 L453.8 107.03 L449.8 103.03 Z" fill="none" stroke="#000" stroke-width="1.4"/>
<path d="M467.8 88.05 L471.8 92.05 L467.8 96.05 L463.8 92.05 Z" fill="none" stroke="#000" stroke-width="1.4"/>
<path d="M481.8 97.43 L485.8 101.43 L481.8 105.43 L477.8 101.43 Z" fill="none" stroke="#000" stroke-width="1.4"/>
<path d="M495.8 89.91 L499.8 93.91 L495.8 97.91 L491.8 93.91 Z" fill="none" stroke="#000" stroke-width="1.4"/>
<path d="M509.8 90.28 L513.8 94.28 L509.8 98.28 L505.8 94.28 Z" fill="none" stroke="#000" stroke-width="1.4"/>
<path d="M523.8 85.34 L527.8 89.34 L523.8 93.34 L519.8 89.34 Z" fill="none" stroke="#000" stroke-width="1.4"/>
<circle cx="369.8" cy="218.13" r="4.1" fill="#8c0509" stroke="#8c0509" stroke-width="0.5"/>
<circle cx="383.8" cy="199.75" r="4.1" fill="#8c0509" stroke="#8c0509" stroke-width="0.5"/>
<circle cx="397.8" cy="181.86" r="4.1" fill="#8c0509" stroke="#8c0509" stroke-width="0.5"/>
<circle cx="411.8" cy="153.86" r="4.1" fill="#8c0509" stroke="#8c0509" stroke-width="0.5"/>
<circle cx="425.8" cy="120.18" r="4.1" fill="#8c0509" stroke="#8c0509" stroke-width="0.5"/>
<circle cx="439.8" cy="93.91" r="4.1" fill="#8c0509" stroke="#8c0509" stroke-width="0.5"/>
<circle cx="453.8" cy="90.57" r="4.1" fill="#8c0509" stroke="#8c0509" stroke-width="0.5"/>
<circle cx="467.8" cy="83.42" r="4.1" fill="#8c0509" stroke="#8c0509" stroke-width="0.5"/>
<circle cx="481.8" cy="90.94" r="4.1" fill="#8c0509" stroke="#8c0509" stroke-width="0.5"/>
<circle cx="495.8" cy="78.49" r="4.1" fill="#8c0509" stroke="#8c0509" stroke-width="0.5"/>
<circle cx="509.8" cy="85.64" r="4.1" fill="#8c0509" stroke="#8c0509" stroke-width="0.5"/>
<circle cx="523.8" cy="99.33" r="4.1" fill="#8c0509" stroke="#8c0509" stroke-width="0.5"/>
<circle cx="369.8" cy="210.23" r="3.7" fill="none" stroke="#8c0509" stroke-width="1.65"/>
<circle cx="383.8" cy="205.42" r="3.7" fill="none" stroke="#8c0509" stroke-width="1.65"/>
<circle cx="397.8" cy="202.09" r="3.7" fill="none" stroke="#8c0509" stroke-width="1.65"/>
<circle cx="411.8" cy="218.5" r="3.7" fill="none" stroke="#8c0509" stroke-width="1.65"/>
<circle cx="425.8" cy="191.85" r="3.7" fill="none" stroke="#8c0509" stroke-width="1.65"/>
<circle cx="439.8" cy="171.13" r="3.7" fill="none" stroke="#8c0509" stroke-width="1.65"/>
<circle cx="453.8" cy="138.68" r="3.7" fill="none" stroke="#8c0509" stroke-width="1.65"/>
<circle cx="467.8" cy="120.18" r="3.7" fill="none" stroke="#8c0509" stroke-width="1.65"/>
<circle cx="481.8" cy="112.9" r="3.7" fill="none" stroke="#8c0509" stroke-width="1.65"/>
<circle cx="495.8" cy="97.61" r="3.7" fill="none" stroke="#8c0509" stroke-width="1.65"/>
<circle cx="509.8" cy="92.79" r="3.7" fill="none" stroke="#8c0509" stroke-width="1.65"/>
<circle cx="523.8" cy="88.35" r="3.7" fill="none" stroke="#8c0509" stroke-width="1.65"/>
<line x1="342.2" y1="332.8" x2="342.2" y2="528.1" stroke="#8c8c8c" stroke-width="1.1" />
<line x1="341.7" y1="527.6" x2="538.5" y2="527.6" stroke="#8c8c8c" stroke-width="1.1" />
<line x1="335.2" y1="503.2" x2="342.2" y2="503.2" stroke="#8c8c8c" stroke-width="1.1" />
<text transform="translate(332.2,509.4) scale(0.92,1)" font-size="15.6" text-anchor="end">0</text>
<line x1="335.2" y1="472.76" x2="342.2" y2="472.76" stroke="#8c8c8c" stroke-width="1.1" />
<text transform="translate(332.2,478.96) scale(0.92,1)" font-size="15.6" text-anchor="end">25</text>
<line x1="335.2" y1="442.32" x2="342.2" y2="442.32" stroke="#8c8c8c" stroke-width="1.1" />
<text transform="translate(332.2,448.52) scale(0.92,1)" font-size="15.6" text-anchor="end">50</text>
<line x1="335.2" y1="411.88" x2="342.2" y2="411.88" stroke="#8c8c8c" stroke-width="1.1" />
<text transform="translate(332.2,418.08) scale(0.92,1)" font-size="15.6" text-anchor="end">75</text>
<line x1="335.2" y1="381.44" x2="342.2" y2="381.44" stroke="#8c8c8c" stroke-width="1.1" />
<text transform="translate(332.2,387.64) scale(0.92,1)" font-size="15.6" text-anchor="end">100</text>
<line x1="335.2" y1="351" x2="342.2" y2="351" stroke="#8c8c8c" stroke-width="1.1" />
<text transform="translate(332.2,357.2) scale(0.92,1)" font-size="15.6" text-anchor="end">125</text>
<line x1="344.86" y1="527.6" x2="344.86" y2="531.6" stroke="#8c8c8c" stroke-width="1.0" />
<line x1="347.57" y1="527.6" x2="347.57" y2="531.6" stroke="#8c8c8c" stroke-width="1.0" />
<line x1="349.79" y1="527.6" x2="349.79" y2="531.6" stroke="#8c8c8c" stroke-width="1.0" />
<line x1="351.66" y1="527.6" x2="351.66" y2="531.6" stroke="#8c8c8c" stroke-width="1.0" />
<line x1="353.29" y1="527.6" x2="353.29" y2="531.6" stroke="#8c8c8c" stroke-width="1.0" />
<line x1="354.72" y1="527.6" x2="354.72" y2="531.6" stroke="#8c8c8c" stroke-width="1.0" />
<line x1="356" y1="527.6" x2="356" y2="534.6" stroke="#8c8c8c" stroke-width="1.1" />
<line x1="364.43" y1="527.6" x2="364.43" y2="531.6" stroke="#8c8c8c" stroke-width="1.0" />
<line x1="369.36" y1="527.6" x2="369.36" y2="531.6" stroke="#8c8c8c" stroke-width="1.0" />
<line x1="372.86" y1="527.6" x2="372.86" y2="531.6" stroke="#8c8c8c" stroke-width="1.0" />
<line x1="375.57" y1="527.6" x2="375.57" y2="531.6" stroke="#8c8c8c" stroke-width="1.0" />
<line x1="377.79" y1="527.6" x2="377.79" y2="531.6" stroke="#8c8c8c" stroke-width="1.0" />
<line x1="379.66" y1="527.6" x2="379.66" y2="531.6" stroke="#8c8c8c" stroke-width="1.0" />
<line x1="381.29" y1="527.6" x2="381.29" y2="531.6" stroke="#8c8c8c" stroke-width="1.0" />
<line x1="382.72" y1="527.6" x2="382.72" y2="531.6" stroke="#8c8c8c" stroke-width="1.0" />
<line x1="384" y1="527.6" x2="384" y2="534.6" stroke="#8c8c8c" stroke-width="1.1" />
<line x1="392.43" y1="527.6" x2="392.43" y2="531.6" stroke="#8c8c8c" stroke-width="1.0" />
<line x1="397.36" y1="527.6" x2="397.36" y2="531.6" stroke="#8c8c8c" stroke-width="1.0" />
<line x1="400.86" y1="527.6" x2="400.86" y2="531.6" stroke="#8c8c8c" stroke-width="1.0" />
<line x1="403.57" y1="527.6" x2="403.57" y2="531.6" stroke="#8c8c8c" stroke-width="1.0" />
<line x1="405.79" y1="527.6" x2="405.79" y2="531.6" stroke="#8c8c8c" stroke-width="1.0" />
<line x1="407.66" y1="527.6" x2="407.66" y2="531.6" stroke="#8c8c8c" stroke-width="1.0" />
<line x1="409.29" y1="527.6" x2="409.29" y2="531.6" stroke="#8c8c8c" stroke-width="1.0" />
<line x1="410.72" y1="527.6" x2="410.72" y2="531.6" stroke="#8c8c8c" stroke-width="1.0" />
<line x1="412" y1="527.6" x2="412" y2="534.6" stroke="#8c8c8c" stroke-width="1.1" />
<line x1="420.43" y1="527.6" x2="420.43" y2="531.6" stroke="#8c8c8c" stroke-width="1.0" />
<line x1="425.36" y1="527.6" x2="425.36" y2="531.6" stroke="#8c8c8c" stroke-width="1.0" />
<line x1="428.86" y1="527.6" x2="428.86" y2="531.6" stroke="#8c8c8c" stroke-width="1.0" />
<line x1="431.57" y1="527.6" x2="431.57" y2="531.6" stroke="#8c8c8c" stroke-width="1.0" />
<line x1="433.79" y1="527.6" x2="433.79" y2="531.6" stroke="#8c8c8c" stroke-width="1.0" />
<line x1="435.66" y1="527.6" x2="435.66" y2="531.6" stroke="#8c8c8c" stroke-width="1.0" />
<line x1="437.29" y1="527.6" x2="437.29" y2="531.6" stroke="#8c8c8c" stroke-width="1.0" />
<line x1="438.72" y1="527.6" x2="438.72" y2="531.6" stroke="#8c8c8c" stroke-width="1.0" />
<line x1="440" y1="527.6" x2="440" y2="534.6" stroke="#8c8c8c" stroke-width="1.1" />
<line x1="448.43" y1="527.6" x2="448.43" y2="531.6" stroke="#8c8c8c" stroke-width="1.0" />
<line x1="453.36" y1="527.6" x2="453.36" y2="531.6" stroke="#8c8c8c" stroke-width="1.0" />
<line x1="456.86" y1="527.6" x2="456.86" y2="531.6" stroke="#8c8c8c" stroke-width="1.0" />
<line x1="459.57" y1="527.6" x2="459.57" y2="531.6" stroke="#8c8c8c" stroke-width="1.0" />
<line x1="461.79" y1="527.6" x2="461.79" y2="531.6" stroke="#8c8c8c" stroke-width="1.0" />
<line x1="463.66" y1="527.6" x2="463.66" y2="531.6" stroke="#8c8c8c" stroke-width="1.0" />
<line x1="465.29" y1="527.6" x2="465.29" y2="531.6" stroke="#8c8c8c" stroke-width="1.0" />
<line x1="466.72" y1="527.6" x2="466.72" y2="531.6" stroke="#8c8c8c" stroke-width="1.0" />
<line x1="468" y1="527.6" x2="468" y2="534.6" stroke="#8c8c8c" stroke-width="1.1" />
<line x1="476.43" y1="527.6" x2="476.43" y2="531.6" stroke="#8c8c8c" stroke-width="1.0" />
<line x1="481.36" y1="527.6" x2="481.36" y2="531.6" stroke="#8c8c8c" stroke-width="1.0" />
<line x1="484.86" y1="527.6" x2="484.86" y2="531.6" stroke="#8c8c8c" stroke-width="1.0" />
<line x1="487.57" y1="527.6" x2="487.57" y2="531.6" stroke="#8c8c8c" stroke-width="1.0" />
<line x1="489.79" y1="527.6" x2="489.79" y2="531.6" stroke="#8c8c8c" stroke-width="1.0" />
<line x1="491.66" y1="527.6" x2="491.66" y2="531.6" stroke="#8c8c8c" stroke-width="1.0" />
<line x1="493.29" y1="527.6" x2="493.29" y2="531.6" stroke="#8c8c8c" stroke-width="1.0" />
<line x1="494.72" y1="527.6" x2="494.72" y2="531.6" stroke="#8c8c8c" stroke-width="1.0" />
<line x1="496" y1="527.6" x2="496" y2="534.6" stroke="#8c8c8c" stroke-width="1.1" />
<line x1="504.43" y1="527.6" x2="504.43" y2="531.6" stroke="#8c8c8c" stroke-width="1.0" />
<line x1="509.36" y1="527.6" x2="509.36" y2="531.6" stroke="#8c8c8c" stroke-width="1.0" />
<line x1="512.86" y1="527.6" x2="512.86" y2="531.6" stroke="#8c8c8c" stroke-width="1.0" />
<line x1="515.57" y1="527.6" x2="515.57" y2="531.6" stroke="#8c8c8c" stroke-width="1.0" />
<line x1="517.79" y1="527.6" x2="517.79" y2="531.6" stroke="#8c8c8c" stroke-width="1.0" />
<line x1="519.66" y1="527.6" x2="519.66" y2="531.6" stroke="#8c8c8c" stroke-width="1.0" />
<line x1="521.29" y1="527.6" x2="521.29" y2="531.6" stroke="#8c8c8c" stroke-width="1.0" />
<line x1="522.72" y1="527.6" x2="522.72" y2="531.6" stroke="#8c8c8c" stroke-width="1.0" />
<line x1="524" y1="527.6" x2="524" y2="534.6" stroke="#8c8c8c" stroke-width="1.1" />
<line x1="532.43" y1="527.6" x2="532.43" y2="531.6" stroke="#8c8c8c" stroke-width="1.0" />
<line x1="537.36" y1="527.6" x2="537.36" y2="531.6" stroke="#8c8c8c" stroke-width="1.0" />
<text transform="translate(356,551.1) scale(0.93,1)" font-size="15.4" text-anchor="middle">-12</text>
<text transform="translate(384,551.1) scale(0.93,1)" font-size="15.4" text-anchor="middle">-11</text>
<text transform="translate(412,551.1) scale(0.93,1)" font-size="15.4" text-anchor="middle">-10</text>
<text transform="translate(440,551.1) scale(0.93,1)" font-size="15.4" text-anchor="middle">-9</text>
<text transform="translate(468,551.1) scale(0.93,1)" font-size="15.4" text-anchor="middle">-8</text>
<text transform="translate(496,551.1) scale(0.93,1)" font-size="15.4" text-anchor="middle">-7</text>
<text transform="translate(524,551.1) scale(0.93,1)" font-size="15.4" text-anchor="middle">-6</text>
<text x="375.4" y="574.4" font-size="15.8" text-anchor="start" font-weight="normal" font-style="normal" >Log [AM12033], M</text>
<text transform="translate(295.5,428.5) rotate(-90) scale(1,0.95)" font-size="15.7" text-anchor="middle">Inhibition of cAMP (%WT)</text>
<polyline points="370,502.72 371.93,502.61 373.85,502.47 375.78,502.31 377.7,502.11 379.62,501.86 381.55,501.56 383.47,501.19 385.4,500.74 387.32,500.19 389.25,499.52 391.18,498.71 393.1,497.74 395.03,496.55 396.95,495.13 398.88,493.44 400.8,491.42 402.72,489.04 404.65,486.25 406.57,483.01 408.5,479.3 410.43,475.08 412.35,470.37 414.28,465.19 416.2,459.59 418.12,453.64 420.05,447.45 421.97,441.14 423.9,434.84 425.83,428.68 427.75,422.79 429.67,417.26 431.6,412.16 433.53,407.54 435.45,403.41 437.38,399.79 439.3,396.63 441.22,393.92 443.15,391.61 445.08,389.65 447,388.01 448.92,386.64 450.85,385.5 452.78,384.55 454.7,383.77 456.62,383.12 458.55,382.59 460.47,382.16 462.4,381.8 464.33,381.51 466.25,381.28 468.17,381.08 470.1,380.92 472.02,380.79 473.95,380.69 475.88,380.6 477.8,380.53 479.73,380.47 481.65,380.43 483.58,380.39 485.5,380.36 487.42,380.33 489.35,380.31 491.27,380.3 493.2,380.28 495.12,380.27 497.05,380.26 498.98,380.25 500.9,380.25 502.83,380.24 504.75,380.24 506.67,380.24 508.6,380.23 510.52,380.23 512.45,380.23 514.38,380.23 516.3,380.23 518.23,380.23 520.15,380.23 522.08,380.23 524,380.22" fill="none" stroke="#5f8c8c" stroke-width="1.0"/>
<polyline points="370,502.91 371.93,502.85 373.85,502.78 375.78,502.69 377.7,502.58 379.62,502.45 381.55,502.3 383.47,502.11 385.4,501.89 387.32,501.62 389.25,501.29 391.18,500.9 393.1,500.43 395.03,499.86 396.95,499.19 398.88,498.38 400.8,497.42 402.72,496.27 404.65,494.92 406.57,493.32 408.5,491.44 410.43,489.26 412.35,486.72 414.28,483.8 416.2,480.47 418.12,476.71 420.05,472.51 421.97,467.88 423.9,462.85 425.83,457.45 427.75,451.77 429.67,445.88 431.6,439.88 433.53,433.89 435.45,428 437.38,422.32 439.3,416.92 441.22,411.89 443.15,407.26 445.08,403.06 447,399.3 448.92,395.97 450.85,393.05 452.78,390.51 454.7,388.32 456.62,386.45 458.55,384.85 460.47,383.5 462.4,382.35 464.33,381.39 466.25,380.58 468.17,379.91 470.1,379.34 472.02,378.87 473.95,378.48 475.88,378.15 477.8,377.88 479.73,377.66 481.65,377.47 483.58,377.32 485.5,377.19 487.42,377.08 489.35,376.99 491.27,376.92 493.2,376.86 495.12,376.81 497.05,376.77 498.98,376.73 500.9,376.71 502.83,376.68 504.75,376.66 506.67,376.65 508.6,376.63 510.52,376.62 512.45,376.61 514.38,376.61 516.3,376.6 518.23,376.59 520.15,376.59 522.08,376.59 524,376.58" fill="none" stroke="#444" stroke-width="1.0"/>
<polyline points="370,502.78 371.93,502.69 373.85,502.59 375.78,502.46 377.7,502.3 379.62,502.12 381.55,501.89 383.47,501.62 385.4,501.3 387.32,500.91 389.25,500.44 391.18,499.88 393.1,499.21 395.03,498.41 396.95,497.45 398.88,496.32 400.8,494.98 402.72,493.39 404.65,491.54 406.57,489.38 408.5,486.87 410.43,483.99 412.35,480.72 414.28,477.02 416.2,472.91 418.12,468.39 420.05,463.48 421.97,458.24 423.9,452.73 425.83,447.04 427.75,441.27 429.67,435.51 431.6,429.88 433.53,424.46 435.45,419.33 437.38,414.56 439.3,410.18 441.22,406.22 443.15,402.68 445.08,399.56 447,396.82 448.92,394.44 450.85,392.39 452.78,390.64 454.7,389.15 456.62,387.89 458.55,386.82 460.47,385.92 462.4,385.17 464.33,384.54 466.25,384.02 468.17,383.58 470.1,383.21 472.02,382.91 473.95,382.66 475.88,382.45 477.8,382.28 479.73,382.13 481.65,382.01 483.58,381.91 485.5,381.83 487.42,381.76 489.35,381.71 491.27,381.66 493.2,381.62 495.12,381.59 497.05,381.57 498.98,381.54 500.9,381.53 502.83,381.51 504.75,381.5 506.67,381.49 508.6,381.48 510.52,381.47 512.45,381.47 514.38,381.46 516.3,381.46 518.23,381.46 520.15,381.45 522.08,381.45 524,381.45" fill="none" stroke="#5f8c8c" stroke-width="1.0"/>
<line x1="342.7" y1="503.2" x2="539.5" y2="503.2" stroke="#000" stroke-width="2.2" stroke-dasharray="3.5 1.8"/>
<line x1="384" y1="495.59" x2="384" y2="498.19" stroke="#8aacac" stroke-width="1.0" />
<line x1="384" y1="506.99" x2="384" y2="509.59" stroke="#8aacac" stroke-width="1.0" />
<line x1="380" y1="495.59" x2="388" y2="495.59" stroke="#8aacac" stroke-width="1.0" />
<line x1="380" y1="509.59" x2="388" y2="509.59" stroke="#8aacac" stroke-width="1.0" />
<line x1="398" y1="483.23" x2="398" y2="492.83" stroke="#8aacac" stroke-width="1.0" />
<line x1="398" y1="501.63" x2="398" y2="511.23" stroke="#8aacac" stroke-width="1.0" />
<line x1="394" y1="483.23" x2="402" y2="483.23" stroke="#8aacac" stroke-width="1.0" />
<line x1="394" y1="511.23" x2="402" y2="511.23" stroke="#8aacac" stroke-width="1.0" />
<line x1="412" y1="453.99" x2="412" y2="467.99" stroke="#8aacac" stroke-width="1.0" />
<line x1="412" y1="476.79" x2="412" y2="490.79" stroke="#8aacac" stroke-width="1.0" />
<line x1="408" y1="453.99" x2="416" y2="453.99" stroke="#8aacac" stroke-width="1.0" />
<line x1="408" y1="490.79" x2="416" y2="490.79" stroke="#8aacac" stroke-width="1.0" />
<line x1="426" y1="409.18" x2="426" y2="425.38" stroke="#8aacac" stroke-width="1.0" />
<line x1="426" y1="434.18" x2="426" y2="450.38" stroke="#8aacac" stroke-width="1.0" />
<line x1="422" y1="409.18" x2="430" y2="409.18" stroke="#8aacac" stroke-width="1.0" />
<line x1="422" y1="450.38" x2="430" y2="450.38" stroke="#8aacac" stroke-width="1.0" />
<line x1="440" y1="356.66" x2="440" y2="392.26" stroke="#8aacac" stroke-width="1.0" />
<line x1="440" y1="401.06" x2="440" y2="436.66" stroke="#8aacac" stroke-width="1.0" />
<line x1="436" y1="356.66" x2="444" y2="356.66" stroke="#8aacac" stroke-width="1.0" />
<line x1="436" y1="436.66" x2="444" y2="436.66" stroke="#8aacac" stroke-width="1.0" />
<line x1="454" y1="348.63" x2="454" y2="379.23" stroke="#8aacac" stroke-width="1.0" />
<line x1="454" y1="388.03" x2="454" y2="418.63" stroke="#8aacac" stroke-width="1.0" />
<line x1="450" y1="348.63" x2="458" y2="348.63" stroke="#8aacac" stroke-width="1.0" />
<line x1="450" y1="418.63" x2="458" y2="418.63" stroke="#8aacac" stroke-width="1.0" />
<line x1="468" y1="344.77" x2="468" y2="373.87" stroke="#8aacac" stroke-width="1.0" />
<line x1="468" y1="382.67" x2="468" y2="411.77" stroke="#8aacac" stroke-width="1.0" />
<line x1="464" y1="344.77" x2="472" y2="344.77" stroke="#8aacac" stroke-width="1.0" />
<line x1="464" y1="411.77" x2="472" y2="411.77" stroke="#8aacac" stroke-width="1.0" />
<line x1="482" y1="357.76" x2="482" y2="388.36" stroke="#8aacac" stroke-width="1.0" />
<line x1="482" y1="397.16" x2="482" y2="427.76" stroke="#8aacac" stroke-width="1.0" />
<line x1="478" y1="357.76" x2="486" y2="357.76" stroke="#8aacac" stroke-width="1.0" />
<line x1="478" y1="427.76" x2="486" y2="427.76" stroke="#8aacac" stroke-width="1.0" />
<line x1="496" y1="347.68" x2="496" y2="371.68" stroke="#8aacac" stroke-width="1.0" />
<line x1="496" y1="380.48" x2="496" y2="404.48" stroke="#8aacac" stroke-width="1.0" />
<line x1="492" y1="347.68" x2="500" y2="347.68" stroke="#8aacac" stroke-width="1.0" />
<line x1="492" y1="404.48" x2="500" y2="404.48" stroke="#8aacac" stroke-width="1.0" />
<line x1="510" y1="353.02" x2="510" y2="383.62" stroke="#8aacac" stroke-width="1.0" />
<line x1="510" y1="392.42" x2="510" y2="423.02" stroke="#8aacac" stroke-width="1.0" />
<line x1="506" y1="353.02" x2="514" y2="353.02" stroke="#8aacac" stroke-width="1.0" />
<line x1="506" y1="423.02" x2="514" y2="423.02" stroke="#8aacac" stroke-width="1.0" />
<line x1="524" y1="354.14" x2="524" y2="374.24" stroke="#8aacac" stroke-width="1.0" />
<line x1="524" y1="383.04" x2="524" y2="403.14" stroke="#8aacac" stroke-width="1.0" />
<line x1="520" y1="354.14" x2="528" y2="354.14" stroke="#8aacac" stroke-width="1.0" />
<line x1="520" y1="403.14" x2="528" y2="403.14" stroke="#8aacac" stroke-width="1.0" />
<line x1="384" y1="498.85" x2="384" y2="502.15" stroke="#222" stroke-width="1.6" />
<line x1="384" y1="511.55" x2="384" y2="514.85" stroke="#222" stroke-width="1.6" />
<line x1="380" y1="498.85" x2="388" y2="498.85" stroke="#222" stroke-width="1.6" />
<line x1="380" y1="514.85" x2="388" y2="514.85" stroke="#222" stroke-width="1.6" />
<line x1="398" y1="499.64" x2="398" y2="500.94" stroke="#222" stroke-width="1.6" />
<line x1="398" y1="510.34" x2="398" y2="511.64" stroke="#222" stroke-width="1.6" />
<line x1="394" y1="499.64" x2="402" y2="499.64" stroke="#222" stroke-width="1.6" />
<line x1="394" y1="511.64" x2="402" y2="511.64" stroke="#222" stroke-width="1.6" />
<line x1="412" y1="483.09" x2="412" y2="485.59" stroke="#222" stroke-width="1.6" />
<line x1="412" y1="494.99" x2="412" y2="497.49" stroke="#222" stroke-width="1.6" />
<line x1="408" y1="483.09" x2="416" y2="483.09" stroke="#222" stroke-width="1.6" />
<line x1="408" y1="497.49" x2="416" y2="497.49" stroke="#222" stroke-width="1.6" />
<line x1="426" y1="458.04" x2="426" y2="459.54" stroke="#222" stroke-width="1.6" />
<line x1="426" y1="468.94" x2="426" y2="470.44" stroke="#222" stroke-width="1.6" />
<line x1="422" y1="458.04" x2="430" y2="458.04" stroke="#222" stroke-width="1.6" />
<line x1="422" y1="470.44" x2="430" y2="470.44" stroke="#222" stroke-width="1.6" />
<line x1="440" y1="423.14" x2="440" y2="425.44" stroke="#222" stroke-width="1.6" />
<line x1="440" y1="434.84" x2="440" y2="437.14" stroke="#222" stroke-width="1.6" />
<line x1="436" y1="423.14" x2="444" y2="423.14" stroke="#222" stroke-width="1.6" />
<line x1="436" y1="437.14" x2="444" y2="437.14" stroke="#222" stroke-width="1.6" />
<line x1="454" y1="371.69" x2="454" y2="388.79" stroke="#222" stroke-width="1.6" />
<line x1="454" y1="398.19" x2="454" y2="415.29" stroke="#222" stroke-width="1.6" />
<line x1="450" y1="371.69" x2="458" y2="371.69" stroke="#222" stroke-width="1.6" />
<line x1="450" y1="415.29" x2="458" y2="415.29" stroke="#222" stroke-width="1.6" />
<line x1="468" y1="371.18" x2="468" y2="372.48" stroke="#222" stroke-width="1.6" />
<line x1="468" y1="381.88" x2="468" y2="383.18" stroke="#222" stroke-width="1.6" />
<line x1="464" y1="371.18" x2="472" y2="371.18" stroke="#222" stroke-width="1.6" />
<line x1="464" y1="383.18" x2="472" y2="383.18" stroke="#222" stroke-width="1.6" />
<line x1="482" y1="352.88" x2="482" y2="359.08" stroke="#222" stroke-width="1.6" />
<line x1="482" y1="368.48" x2="482" y2="374.68" stroke="#222" stroke-width="1.6" />
<line x1="478" y1="352.88" x2="486" y2="352.88" stroke="#222" stroke-width="1.6" />
<line x1="478" y1="374.68" x2="486" y2="374.68" stroke="#222" stroke-width="1.6" />
<line x1="496" y1="370.2" x2="496" y2="371.5" stroke="#222" stroke-width="1.6" />
<line x1="496" y1="380.9" x2="496" y2="382.2" stroke="#222" stroke-width="1.6" />
<line x1="492" y1="370.2" x2="500" y2="370.2" stroke="#222" stroke-width="1.6" />
<line x1="492" y1="382.2" x2="500" y2="382.2" stroke="#222" stroke-width="1.6" />
<line x1="510" y1="375.44" x2="510" y2="376.74" stroke="#222" stroke-width="1.6" />
<line x1="510" y1="386.14" x2="510" y2="387.44" stroke="#222" stroke-width="1.6" />
<line x1="506" y1="375.44" x2="514" y2="375.44" stroke="#222" stroke-width="1.6" />
<line x1="506" y1="387.44" x2="514" y2="387.44" stroke="#222" stroke-width="1.6" />
<line x1="524" y1="373.64" x2="524" y2="373.94" stroke="#222" stroke-width="1.6" />
<line x1="524" y1="383.34" x2="524" y2="383.64" stroke="#222" stroke-width="1.6" />
<line x1="520" y1="373.64" x2="528" y2="373.64" stroke="#222" stroke-width="1.6" />
<line x1="520" y1="383.64" x2="528" y2="383.64" stroke="#222" stroke-width="1.6" />
<line x1="380" y1="503.46" x2="388" y2="503.46" stroke="#8aacac" stroke-width="1.0" />
<line x1="380" y1="511.46" x2="388" y2="511.46" stroke="#8aacac" stroke-width="1.0" />
<line x1="394" y1="499.81" x2="402" y2="499.81" stroke="#8aacac" stroke-width="1.0" />
<line x1="394" y1="507.81" x2="402" y2="507.81" stroke="#8aacac" stroke-width="1.0" />
<line x1="412" y1="460.5" x2="412" y2="463.95" stroke="#8aacac" stroke-width="1.0" />
<line x1="412" y1="473.05" x2="412" y2="476.5" stroke="#8aacac" stroke-width="1.0" />
<line x1="408" y1="460.5" x2="416" y2="460.5" stroke="#8aacac" stroke-width="1.0" />
<line x1="408" y1="476.5" x2="416" y2="476.5" stroke="#8aacac" stroke-width="1.0" />
<line x1="426" y1="435.97" x2="426" y2="441.42" stroke="#8aacac" stroke-width="1.0" />
<line x1="426" y1="450.52" x2="426" y2="455.97" stroke="#8aacac" stroke-width="1.0" />
<line x1="422" y1="435.97" x2="430" y2="435.97" stroke="#8aacac" stroke-width="1.0" />
<line x1="422" y1="455.97" x2="430" y2="455.97" stroke="#8aacac" stroke-width="1.0" />
<line x1="440" y1="415.06" x2="440" y2="419.51" stroke="#8aacac" stroke-width="1.0" />
<line x1="440" y1="428.61" x2="440" y2="433.06" stroke="#8aacac" stroke-width="1.0" />
<line x1="436" y1="415.06" x2="444" y2="415.06" stroke="#8aacac" stroke-width="1.0" />
<line x1="436" y1="433.06" x2="444" y2="433.06" stroke="#8aacac" stroke-width="1.0" />
<line x1="454" y1="383.97" x2="454" y2="394.42" stroke="#8aacac" stroke-width="1.0" />
<line x1="454" y1="403.52" x2="454" y2="413.97" stroke="#8aacac" stroke-width="1.0" />
<line x1="450" y1="383.97" x2="458" y2="383.97" stroke="#8aacac" stroke-width="1.0" />
<line x1="450" y1="413.97" x2="458" y2="413.97" stroke="#8aacac" stroke-width="1.0" />
<line x1="468" y1="372.85" x2="468" y2="380.3" stroke="#8aacac" stroke-width="1.0" />
<line x1="468" y1="389.4" x2="468" y2="396.85" stroke="#8aacac" stroke-width="1.0" />
<line x1="464" y1="372.85" x2="472" y2="372.85" stroke="#8aacac" stroke-width="1.0" />
<line x1="464" y1="396.85" x2="472" y2="396.85" stroke="#8aacac" stroke-width="1.0" />
<line x1="482" y1="343.02" x2="482" y2="378.47" stroke="#8aacac" stroke-width="1.0" />
<line x1="482" y1="387.57" x2="482" y2="423.02" stroke="#8aacac" stroke-width="1.0" />
<line x1="478" y1="343.02" x2="486" y2="343.02" stroke="#8aacac" stroke-width="1.0" />
<line x1="478" y1="423.02" x2="486" y2="423.02" stroke="#8aacac" stroke-width="1.0" />
<line x1="496" y1="371.27" x2="496" y2="378.72" stroke="#8aacac" stroke-width="1.0" />
<line x1="496" y1="387.82" x2="496" y2="395.27" stroke="#8aacac" stroke-width="1.0" />
<line x1="492" y1="371.27" x2="500" y2="371.27" stroke="#8aacac" stroke-width="1.0" />
<line x1="492" y1="395.27" x2="500" y2="395.27" stroke="#8aacac" stroke-width="1.0" />
<line x1="510" y1="362.31" x2="510" y2="367.76" stroke="#8aacac" stroke-width="1.0" />
<line x1="510" y1="376.86" x2="510" y2="382.31" stroke="#8aacac" stroke-width="1.0" />
<line x1="506" y1="362.31" x2="514" y2="362.31" stroke="#8aacac" stroke-width="1.0" />
<line x1="506" y1="382.31" x2="514" y2="382.31" stroke="#8aacac" stroke-width="1.0" />
<line x1="524" y1="374.73" x2="524" y2="380.18" stroke="#8aacac" stroke-width="1.0" />
<line x1="524" y1="389.28" x2="524" y2="394.73" stroke="#8aacac" stroke-width="1.0" />
<line x1="520" y1="374.73" x2="528" y2="374.73" stroke="#8aacac" stroke-width="1.0" />
<line x1="520" y1="394.73" x2="528" y2="394.73" stroke="#8aacac" stroke-width="1.0" />
<circle cx="384" cy="502.59" r="3.7" fill="none" stroke="#1b4e4e" stroke-width="1.4"/>
<circle cx="398" cy="497.23" r="3.7" fill="none" stroke="#1b4e4e" stroke-width="1.4"/>
<circle cx="412" cy="472.39" r="3.7" fill="none" stroke="#1b4e4e" stroke-width="1.4"/>
<circle cx="426" cy="429.78" r="3.7" fill="none" stroke="#1b4e4e" stroke-width="1.4"/>
<circle cx="440" cy="396.66" r="3.7" fill="none" stroke="#1b4e4e" stroke-width="1.4"/>
<circle cx="454" cy="383.63" r="3.7" fill="none" stroke="#1b4e4e" stroke-width="1.4"/>
<circle cx="468" cy="378.27" r="3.7" fill="none" stroke="#1b4e4e" stroke-width="1.4"/>
<circle cx="482" cy="392.76" r="3.7" fill="none" stroke="#1b4e4e" stroke-width="1.4"/>
<circle cx="496" cy="376.08" r="3.7" fill="none" stroke="#1b4e4e" stroke-width="1.4"/>
<circle cx="510" cy="388.02" r="3.7" fill="none" stroke="#1b4e4e" stroke-width="1.4"/>
<circle cx="524" cy="378.64" r="3.7" fill="none" stroke="#1b4e4e" stroke-width="1.4"/>
<path d="M384 502.85 L388 506.85 L384 510.85 L380 506.85 Z" fill="none" stroke="#000" stroke-width="1.4"/>
<path d="M398 501.64 L402 505.64 L398 509.64 L394 505.64 Z" fill="none" stroke="#000" stroke-width="1.4"/>
<path d="M412 486.29 L416 490.29 L412 494.29 L408 490.29 Z" fill="none" stroke="#000" stroke-width="1.4"/>
<path d="M426 460.24 L430 464.24 L426 468.24 L422 464.24 Z" fill="none" stroke="#000" stroke-width="1.4"/>
<path d="M440 426.14 L444 430.14 L440 434.14 L436 430.14 Z" fill="none" stroke="#000" stroke-width="1.4"/>
<path d="M454 389.49 L458 393.49 L454 397.49 L450 393.49 Z" fill="none" stroke="#000" stroke-width="1.4"/>
<path d="M468 373.18 L472 377.18 L468 381.18 L464 377.18 Z" fill="none" stroke="#000" stroke-width="1.4"/>
<path d="M482 359.78 L486 363.78 L482 367.78 L478 363.78 Z" fill="none" stroke="#000" stroke-width="1.4"/>
<path d="M496 372.2 L500 376.2 L496 380.2 L492 376.2 Z" fill="none" stroke="#000" stroke-width="1.4"/>
<path d="M510 377.44 L514 381.44 L510 385.44 L506 381.44 Z" fill="none" stroke="#000" stroke-width="1.4"/>
<path d="M524 374.64 L528 378.64 L524 382.64 L520 378.64 Z" fill="none" stroke="#000" stroke-width="1.4"/>
<circle cx="384" cy="507.46" r="4.0" fill="#5c9c9c" stroke="#1b4e4e" stroke-width="1.1"/>
<circle cx="398" cy="503.81" r="4.0" fill="#5c9c9c" stroke="#1b4e4e" stroke-width="1.1"/>
<circle cx="412" cy="468.5" r="4.0" fill="#5c9c9c" stroke="#1b4e4e" stroke-width="1.1"/>
<circle cx="426" cy="445.97" r="4.0" fill="#5c9c9c" stroke="#1b4e4e" stroke-width="1.1"/>
<circle cx="440" cy="424.06" r="4.0" fill="#5c9c9c" stroke="#1b4e4e" stroke-width="1.1"/>
<circle cx="454" cy="398.97" r="4.0" fill="#5c9c9c" stroke="#1b4e4e" stroke-width="1.1"/>
<circle cx="468" cy="384.85" r="4.0" fill="#5c9c9c" stroke="#1b4e4e" stroke-width="1.1"/>
<circle cx="482" cy="383.02" r="4.0" fill="#5c9c9c" stroke="#1b4e4e" stroke-width="1.1"/>
<circle cx="496" cy="383.27" r="4.0" fill="#5c9c9c" stroke="#1b4e4e" stroke-width="1.1"/>
<circle cx="510" cy="372.31" r="4.0" fill="#5c9c9c" stroke="#1b4e4e" stroke-width="1.1"/>
<circle cx="524" cy="384.73" r="4.0" fill="#5c9c9c" stroke="#1b4e4e" stroke-width="1.1"/>
<line x1="84.2" y1="592.4" x2="84.2" y2="728.5" stroke="#8c8c8c" stroke-width="1.1" />
<line x1="83.7" y1="728" x2="174.5" y2="728" stroke="#8c8c8c" stroke-width="1.1" />
<line x1="84.2" y1="728" x2="84.2" y2="733" stroke="#8c8c8c" stroke-width="1.1" />
<line x1="88.83" y1="728" x2="88.83" y2="731" stroke="#8c8c8c" stroke-width="0.8" />
<line x1="91.54" y1="728" x2="91.54" y2="731" stroke="#8c8c8c" stroke-width="0.8" />
<line x1="93.46" y1="728" x2="93.46" y2="731" stroke="#8c8c8c" stroke-width="0.8" />
<line x1="94.95" y1="728" x2="94.95" y2="731" stroke="#8c8c8c" stroke-width="0.8" />
<line x1="96.17" y1="728" x2="96.17" y2="731" stroke="#8c8c8c" stroke-width="0.8" />
<line x1="97.2" y1="728" x2="97.2" y2="731" stroke="#8c8c8c" stroke-width="0.8" />
<line x1="98.09" y1="728" x2="98.09" y2="731" stroke="#8c8c8c" stroke-width="0.8" />
<line x1="98.88" y1="728" x2="98.88" y2="731" stroke="#8c8c8c" stroke-width="0.8" />
<line x1="99.58" y1="728" x2="99.58" y2="733" stroke="#8c8c8c" stroke-width="1.1" />
<line x1="104.21" y1="728" x2="104.21" y2="731" stroke="#8c8c8c" stroke-width="0.8" />
<line x1="106.92" y1="728" x2="106.92" y2="731" stroke="#8c8c8c" stroke-width="0.8" />
<line x1="108.84" y1="728" x2="108.84" y2="731" stroke="#8c8c8c" stroke-width="0.8" />
<line x1="110.33" y1="728" x2="110.33" y2="731" stroke="#8c8c8c" stroke-width="0.8" />
<line x1="111.55" y1="728" x2="111.55" y2="731" stroke="#8c8c8c" stroke-width="0.8" />
<line x1="112.58" y1="728" x2="112.58" y2="731" stroke="#8c8c8c" stroke-width="0.8" />
<line x1="113.47" y1="728" x2="113.47" y2="731" stroke="#8c8c8c" stroke-width="0.8" />
<line x1="114.26" y1="728" x2="114.26" y2="731" stroke="#8c8c8c" stroke-width="0.8" />
<line x1="114.96" y1="728" x2="114.96" y2="733" stroke="#8c8c8c" stroke-width="1.1" />
<line x1="119.59" y1="728" x2="119.59" y2="731" stroke="#8c8c8c" stroke-width="0.8" />
<line x1="122.3" y1="728" x2="122.3" y2="731" stroke="#8c8c8c" stroke-width="0.8" />
<line x1="124.22" y1="728" x2="124.22" y2="731" stroke="#8c8c8c" stroke-width="0.8" />
<line x1="125.71" y1="728" x2="125.71" y2="731" stroke="#8c8c8c" stroke-width="0.8" />
<line x1="126.93" y1="728" x2="126.93" y2="731" stroke="#8c8c8c" stroke-width="0.8" />
<line x1="127.96" y1="728" x2="127.96" y2="731" stroke="#8c8c8c" stroke-width="0.8" />
<line x1="128.85" y1="728" x2="128.85" y2="731" stroke="#8c8c8c" stroke-width="0.8" />
<line x1="129.64" y1="728" x2="129.64" y2="731" stroke="#8c8c8c" stroke-width="0.8" />
<line x1="130.34" y1="728" x2="130.34" y2="733" stroke="#8c8c8c" stroke-width="1.1" />
<line x1="134.97" y1="728" x2="134.97" y2="731" stroke="#8c8c8c" stroke-width="0.8" />
<line x1="137.68" y1="728" x2="137.68" y2="731" stroke="#8c8c8c" stroke-width="0.8" />
<line x1="139.6" y1="728" x2="139.6" y2="731" stroke="#8c8c8c" stroke-width="0.8" />
<line x1="141.09" y1="728" x2="141.09" y2="731" stroke="#8c8c8c" stroke-width="0.8" />
<line x1="142.31" y1="728" x2="142.31" y2="731" stroke="#8c8c8c" stroke-width="0.8" />
<line x1="143.34" y1="728" x2="143.34" y2="731" stroke="#8c8c8c" stroke-width="0.8" />
<line x1="144.23" y1="728" x2="144.23" y2="731" stroke="#8c8c8c" stroke-width="0.8" />
<line x1="145.02" y1="728" x2="145.02" y2="731" stroke="#8c8c8c" stroke-width="0.8" />
<line x1="145.72" y1="728" x2="145.72" y2="733" stroke="#8c8c8c" stroke-width="1.1" />
<line x1="150.35" y1="728" x2="150.35" y2="731" stroke="#8c8c8c" stroke-width="0.8" />
<line x1="153.06" y1="728" x2="153.06" y2="731" stroke="#8c8c8c" stroke-width="0.8" />
<line x1="154.98" y1="728" x2="154.98" y2="731" stroke="#8c8c8c" stroke-width="0.8" />
<line x1="156.47" y1="728" x2="156.47" y2="731" stroke="#8c8c8c" stroke-width="0.8" />
<line x1="157.69" y1="728" x2="157.69" y2="731" stroke="#8c8c8c" stroke-width="0.8" />
<line x1="158.72" y1="728" x2="158.72" y2="731" stroke="#8c8c8c" stroke-width="0.8" />
<line x1="159.61" y1="728" x2="159.61" y2="731" stroke="#8c8c8c" stroke-width="0.8" />
<line x1="160.4" y1="728" x2="160.4" y2="731" stroke="#8c8c8c" stroke-width="0.8" />
<line x1="161.1" y1="728" x2="161.1" y2="733" stroke="#8c8c8c" stroke-width="1.1" />
<line x1="165.73" y1="728" x2="165.73" y2="731" stroke="#8c8c8c" stroke-width="0.8" />
<line x1="168.44" y1="728" x2="168.44" y2="731" stroke="#8c8c8c" stroke-width="0.8" />
<line x1="170.36" y1="728" x2="170.36" y2="731" stroke="#8c8c8c" stroke-width="0.8" />
<line x1="171.85" y1="728" x2="171.85" y2="731" stroke="#8c8c8c" stroke-width="0.8" />
<line x1="173.07" y1="728" x2="173.07" y2="731" stroke="#8c8c8c" stroke-width="0.8" />
<line x1="174.1" y1="728" x2="174.1" y2="731" stroke="#8c8c8c" stroke-width="0.8" />
<text x="84.2" y="745.6" font-size="13" text-anchor="middle" font-weight="normal" font-style="normal" >4</text>
<text x="99.58" y="745.6" font-size="13" text-anchor="middle" font-weight="normal" font-style="normal" >5</text>
<text x="114.96" y="745.6" font-size="13" text-anchor="middle" font-weight="normal" font-style="normal" >6</text>
<text x="130.34" y="745.6" font-size="13" text-anchor="middle" font-weight="normal" font-style="normal" >7</text>
<text x="145.72" y="745.6" font-size="13" text-anchor="middle" font-weight="normal" font-style="normal" >8</text>
<text x="161.1" y="745.6" font-size="13" text-anchor="middle" font-weight="normal" font-style="normal" >9</text>
<text x="129" y="761.6" font-size="13.4" text-anchor="middle" font-weight="normal" font-style="normal" >CP55,940</text>
<rect x="84.7" y="606.3" width="72.55" height="26.6" fill="#7f0040"/>
<line x1="157.25" y1="619.6" x2="159.56" y2="619.6" stroke="#7f0040" stroke-width="1.4" />
<line x1="159.56" y1="612.6" x2="159.56" y2="626.6" stroke="#7f0040" stroke-width="1.6" />
<rect x="84.7" y="646.5" width="34.11" height="26.6" fill="#7f0040"/>
<line x1="118.81" y1="659.8" x2="121.57" y2="659.8" stroke="#7f0040" stroke-width="1.4" />
<line x1="121.57" y1="652.8" x2="121.57" y2="666.8" stroke="#7f0040" stroke-width="1.6" />
<text transform="translate(140.8,659.8) rotate(-90)" class="pl" font-size="16" letter-spacing="0.8" text-anchor="middle" font-weight="normal" dy="9.3">****</text>
<rect x="84.7" y="686.7" width="4.88" height="26.6" fill="#7f0040"/>
<line x1="89.58" y1="700" x2="94.97" y2="700" stroke="#7f0040" stroke-width="1.4" />
<line x1="94.97" y1="693" x2="94.97" y2="707" stroke="#7f0040" stroke-width="1.6" />
<text transform="translate(108,700) rotate(-90)" class="pl" font-size="16" letter-spacing="0.8" text-anchor="middle" font-weight="normal" dy="9.3">****</text>
<line x1="186.6" y1="592.4" x2="186.6" y2="727.5" stroke="#8c8c8c" stroke-width="1.1" />
<line x1="186.1" y1="727" x2="276.5" y2="727" stroke="#8c8c8c" stroke-width="1.1" />
<line x1="186.6" y1="727" x2="186.6" y2="732" stroke="#8c8c8c" stroke-width="1.1" />
<line x1="191.24" y1="727" x2="191.24" y2="730" stroke="#8c8c8c" stroke-width="0.8" />
<line x1="193.95" y1="727" x2="193.95" y2="730" stroke="#8c8c8c" stroke-width="0.8" />
<line x1="195.87" y1="727" x2="195.87" y2="730" stroke="#8c8c8c" stroke-width="0.8" />
<line x1="197.36" y1="727" x2="197.36" y2="730" stroke="#8c8c8c" stroke-width="0.8" />
<line x1="198.58" y1="727" x2="198.58" y2="730" stroke="#8c8c8c" stroke-width="0.8" />
<line x1="199.61" y1="727" x2="199.61" y2="730" stroke="#8c8c8c" stroke-width="0.8" />
<line x1="200.51" y1="727" x2="200.51" y2="730" stroke="#8c8c8c" stroke-width="0.8" />
<line x1="201.3" y1="727" x2="201.3" y2="730" stroke="#8c8c8c" stroke-width="0.8" />
<line x1="202" y1="727" x2="202" y2="732" stroke="#8c8c8c" stroke-width="1.1" />
<line x1="206.64" y1="727" x2="206.64" y2="730" stroke="#8c8c8c" stroke-width="0.8" />
<line x1="209.35" y1="727" x2="209.35" y2="730" stroke="#8c8c8c" stroke-width="0.8" />
<line x1="211.27" y1="727" x2="211.27" y2="730" stroke="#8c8c8c" stroke-width="0.8" />
<line x1="212.76" y1="727" x2="212.76" y2="730" stroke="#8c8c8c" stroke-width="0.8" />
<line x1="213.98" y1="727" x2="213.98" y2="730" stroke="#8c8c8c" stroke-width="0.8" />
<line x1="215.01" y1="727" x2="215.01" y2="730" stroke="#8c8c8c" stroke-width="0.8" />
<line x1="215.91" y1="727" x2="215.91" y2="730" stroke="#8c8c8c" stroke-width="0.8" />
<line x1="216.7" y1="727" x2="216.7" y2="730" stroke="#8c8c8c" stroke-width="0.8" />
<line x1="217.4" y1="727" x2="217.4" y2="732" stroke="#8c8c8c" stroke-width="1.1" />
<line x1="222.04" y1="727" x2="222.04" y2="730" stroke="#8c8c8c" stroke-width="0.8" />
<line x1="224.75" y1="727" x2="224.75" y2="730" stroke="#8c8c8c" stroke-width="0.8" />
<line x1="226.67" y1="727" x2="226.67" y2="730" stroke="#8c8c8c" stroke-width="0.8" />
<line x1="228.16" y1="727" x2="228.16" y2="730" stroke="#8c8c8c" stroke-width="0.8" />
<line x1="229.38" y1="727" x2="229.38" y2="730" stroke="#8c8c8c" stroke-width="0.8" />
<line x1="230.41" y1="727" x2="230.41" y2="730" stroke="#8c8c8c" stroke-width="0.8" />
<line x1="231.31" y1="727" x2="231.31" y2="730" stroke="#8c8c8c" stroke-width="0.8" />
<line x1="232.1" y1="727" x2="232.1" y2="730" stroke="#8c8c8c" stroke-width="0.8" />
<line x1="232.8" y1="727" x2="232.8" y2="732" stroke="#8c8c8c" stroke-width="1.1" />
<line x1="237.44" y1="727" x2="237.44" y2="730" stroke="#8c8c8c" stroke-width="0.8" />
<line x1="240.15" y1="727" x2="240.15" y2="730" stroke="#8c8c8c" stroke-width="0.8" />
<line x1="242.07" y1="727" x2="242.07" y2="730" stroke="#8c8c8c" stroke-width="0.8" />
<line x1="243.56" y1="727" x2="243.56" y2="730" stroke="#8c8c8c" stroke-width="0.8" />
<line x1="244.78" y1="727" x2="244.78" y2="730" stroke="#8c8c8c" stroke-width="0.8" />
<line x1="245.81" y1="727" x2="245.81" y2="730" stroke="#8c8c8c" stroke-width="0.8" />
<line x1="246.71" y1="727" x2="246.71" y2="730" stroke="#8c8c8c" stroke-width="0.8" />
<line x1="247.5" y1="727" x2="247.5" y2="730" stroke="#8c8c8c" stroke-width="0.8" />
<line x1="248.2" y1="727" x2="248.2" y2="732" stroke="#8c8c8c" stroke-width="1.1" />
<line x1="252.84" y1="727" x2="252.84" y2="730" stroke="#8c8c8c" stroke-width="0.8" />
<line x1="255.55" y1="727" x2="255.55" y2="730" stroke="#8c8c8c" stroke-width="0.8" />
<line x1="257.47" y1="727" x2="257.47" y2="730" stroke="#8c8c8c" stroke-width="0.8" />
<line x1="258.96" y1="727" x2="258.96" y2="730" stroke="#8c8c8c" stroke-width="0.8" />
<line x1="260.18" y1="727" x2="260.18" y2="730" stroke="#8c8c8c" stroke-width="0.8" />
<line x1="261.21" y1="727" x2="261.21" y2="730" stroke="#8c8c8c" stroke-width="0.8" />
<line x1="262.11" y1="727" x2="262.11" y2="730" stroke="#8c8c8c" stroke-width="0.8" />
<line x1="262.9" y1="727" x2="262.9" y2="730" stroke="#8c8c8c" stroke-width="0.8" />
<line x1="263.6" y1="727" x2="263.6" y2="732" stroke="#8c8c8c" stroke-width="1.1" />
<line x1="268.24" y1="727" x2="268.24" y2="730" stroke="#8c8c8c" stroke-width="0.8" />
<line x1="270.95" y1="727" x2="270.95" y2="730" stroke="#8c8c8c" stroke-width="0.8" />
<line x1="272.87" y1="727" x2="272.87" y2="730" stroke="#8c8c8c" stroke-width="0.8" />
<line x1="274.36" y1="727" x2="274.36" y2="730" stroke="#8c8c8c" stroke-width="0.8" />
<line x1="275.58" y1="727" x2="275.58" y2="730" stroke="#8c8c8c" stroke-width="0.8" />
<text x="186.6" y="744.6" font-size="13" text-anchor="middle" font-weight="normal" font-style="normal" >5</text>
<text x="202" y="744.6" font-size="13" text-anchor="middle" font-weight="normal" font-style="normal" >6</text>
<text x="217.4" y="744.6" font-size="13" text-anchor="middle" font-weight="normal" font-style="normal" >7</text>
<text x="232.8" y="744.6" font-size="13" text-anchor="middle" font-weight="normal" font-style="normal" >8</text>
<text x="248.2" y="744.6" font-size="13" text-anchor="middle" font-weight="normal" font-style="normal" >9</text>
<text x="263.6" y="744.6" font-size="13" text-anchor="middle" font-weight="normal" font-style="normal" >10</text>
<text x="231" y="760.6" font-size="13.4" text-anchor="middle" font-weight="normal" font-style="normal" >AM12033</text>
<line x1="262.06" y1="590.4" x2="262.06" y2="727" stroke="#1f7474" stroke-width="1.6" stroke-dasharray="2.4 1.8"/>
<rect x="187.1" y="605.7" width="74.96" height="26.6" fill="#127f7f"/>
<line x1="262.06" y1="619" x2="265.14" y2="619" stroke="#2c5f5f" stroke-width="1.4" />
<line x1="265.14" y1="612" x2="265.14" y2="626" stroke="#2c5f5f" stroke-width="1.6" />
<rect x="187.1" y="645.7" width="74.96" height="26.6" fill="#127f7f"/>
<line x1="262.06" y1="659" x2="265.91" y2="659" stroke="#2c5f5f" stroke-width="1.4" />
<line x1="265.91" y1="652" x2="265.91" y2="666" stroke="#2c5f5f" stroke-width="1.6" />
<rect x="187.1" y="686.1" width="40.31" height="26.6" fill="#127f7f"/>
<line x1="227.41" y1="699.4" x2="239.73" y2="699.4" stroke="#2c5f5f" stroke-width="1.4" />
<line x1="239.73" y1="692.4" x2="239.73" y2="706.4" stroke="#2c5f5f" stroke-width="1.6" />
<text transform="translate(247,699.4) rotate(-90)" class="pl" font-size="16" letter-spacing="0.8" text-anchor="middle" font-weight="normal" dy="9.3">***</text>
<line x1="80.2" y1="619.6" x2="84.2" y2="619.6" stroke="#8c8c8c" stroke-width="1.0" />
<text x="77.2" y="624.7" font-size="12.5" text-anchor="end" font-weight="normal" font-style="normal" >WT CB1</text>
<line x1="80.2" y1="659.8" x2="84.2" y2="659.8" stroke="#8c8c8c" stroke-width="1.0" />
<text x="77.2" y="664.9" font-size="12.5" text-anchor="end">L193A<tspan font-size="9.5" dy="-5">3.29</tspan></text>
<line x1="80.2" y1="700" x2="84.2" y2="700" stroke="#8c8c8c" stroke-width="1.0" />
<text x="77.2" y="705.1" font-size="12.5" text-anchor="end">Y275A<tspan font-size="9.5" dy="-5">5.39</tspan></text>
<line x1="341.8" y1="592.4" x2="341.8" y2="728.1" stroke="#8c8c8c" stroke-width="1.1" />
<line x1="341.3" y1="727.6" x2="433.5" y2="727.6" stroke="#8c8c8c" stroke-width="1.1" />
<line x1="341.8" y1="727.6" x2="341.8" y2="732.6" stroke="#8c8c8c" stroke-width="1.1" />
<line x1="346.41" y1="727.6" x2="346.41" y2="730.6" stroke="#8c8c8c" stroke-width="0.8" />
<line x1="349.1" y1="727.6" x2="349.1" y2="730.6" stroke="#8c8c8c" stroke-width="0.8" />
<line x1="351.01" y1="727.6" x2="351.01" y2="730.6" stroke="#8c8c8c" stroke-width="0.8" />
<line x1="352.49" y1="727.6" x2="352.49" y2="730.6" stroke="#8c8c8c" stroke-width="0.8" />
<line x1="353.71" y1="727.6" x2="353.71" y2="730.6" stroke="#8c8c8c" stroke-width="0.8" />
<line x1="354.73" y1="727.6" x2="354.73" y2="730.6" stroke="#8c8c8c" stroke-width="0.8" />
<line x1="355.62" y1="727.6" x2="355.62" y2="730.6" stroke="#8c8c8c" stroke-width="0.8" />
<line x1="356.4" y1="727.6" x2="356.4" y2="730.6" stroke="#8c8c8c" stroke-width="0.8" />
<line x1="357.1" y1="727.6" x2="357.1" y2="732.6" stroke="#8c8c8c" stroke-width="1.1" />
<line x1="361.71" y1="727.6" x2="361.71" y2="730.6" stroke="#8c8c8c" stroke-width="0.8" />
<line x1="364.4" y1="727.6" x2="364.4" y2="730.6" stroke="#8c8c8c" stroke-width="0.8" />
<line x1="366.31" y1="727.6" x2="366.31" y2="730.6" stroke="#8c8c8c" stroke-width="0.8" />
<line x1="367.79" y1="727.6" x2="367.79" y2="730.6" stroke="#8c8c8c" stroke-width="0.8" />
<line x1="369.01" y1="727.6" x2="369.01" y2="730.6" stroke="#8c8c8c" stroke-width="0.8" />
<line x1="370.03" y1="727.6" x2="370.03" y2="730.6" stroke="#8c8c8c" stroke-width="0.8" />
<line x1="370.92" y1="727.6" x2="370.92" y2="730.6" stroke="#8c8c8c" stroke-width="0.8" />
<line x1="371.7" y1="727.6" x2="371.7" y2="730.6" stroke="#8c8c8c" stroke-width="0.8" />
<line x1="372.4" y1="727.6" x2="372.4" y2="732.6" stroke="#8c8c8c" stroke-width="1.1" />
<line x1="377.01" y1="727.6" x2="377.01" y2="730.6" stroke="#8c8c8c" stroke-width="0.8" />
<line x1="379.7" y1="727.6" x2="379.7" y2="730.6" stroke="#8c8c8c" stroke-width="0.8" />
<line x1="381.61" y1="727.6" x2="381.61" y2="730.6" stroke="#8c8c8c" stroke-width="0.8" />
<line x1="383.09" y1="727.6" x2="383.09" y2="730.6" stroke="#8c8c8c" stroke-width="0.8" />
<line x1="384.31" y1="727.6" x2="384.31" y2="730.6" stroke="#8c8c8c" stroke-width="0.8" />
<line x1="385.33" y1="727.6" x2="385.33" y2="730.6" stroke="#8c8c8c" stroke-width="0.8" />
<line x1="386.22" y1="727.6" x2="386.22" y2="730.6" stroke="#8c8c8c" stroke-width="0.8" />
<line x1="387" y1="727.6" x2="387" y2="730.6" stroke="#8c8c8c" stroke-width="0.8" />
<line x1="387.7" y1="727.6" x2="387.7" y2="732.6" stroke="#8c8c8c" stroke-width="1.1" />
<line x1="392.31" y1="727.6" x2="392.31" y2="730.6" stroke="#8c8c8c" stroke-width="0.8" />
<line x1="395" y1="727.6" x2="395" y2="730.6" stroke="#8c8c8c" stroke-width="0.8" />
<line x1="396.91" y1="727.6" x2="396.91" y2="730.6" stroke="#8c8c8c" stroke-width="0.8" />
<line x1="398.39" y1="727.6" x2="398.39" y2="730.6" stroke="#8c8c8c" stroke-width="0.8" />
<line x1="399.61" y1="727.6" x2="399.61" y2="730.6" stroke="#8c8c8c" stroke-width="0.8" />
<line x1="400.63" y1="727.6" x2="400.63" y2="730.6" stroke="#8c8c8c" stroke-width="0.8" />
<line x1="401.52" y1="727.6" x2="401.52" y2="730.6" stroke="#8c8c8c" stroke-width="0.8" />
<line x1="402.3" y1="727.6" x2="402.3" y2="730.6" stroke="#8c8c8c" stroke-width="0.8" />
<line x1="403" y1="727.6" x2="403" y2="732.6" stroke="#8c8c8c" stroke-width="1.1" />
<line x1="407.61" y1="727.6" x2="407.61" y2="730.6" stroke="#8c8c8c" stroke-width="0.8" />
<line x1="410.3" y1="727.6" x2="410.3" y2="730.6" stroke="#8c8c8c" stroke-width="0.8" />
<line x1="412.21" y1="727.6" x2="412.21" y2="730.6" stroke="#8c8c8c" stroke-width="0.8" />
<line x1="413.69" y1="727.6" x2="413.69" y2="730.6" stroke="#8c8c8c" stroke-width="0.8" />
<line x1="414.91" y1="727.6" x2="414.91" y2="730.6" stroke="#8c8c8c" stroke-width="0.8" />
<line x1="415.93" y1="727.6" x2="415.93" y2="730.6" stroke="#8c8c8c" stroke-width="0.8" />
<line x1="416.82" y1="727.6" x2="416.82" y2="730.6" stroke="#8c8c8c" stroke-width="0.8" />
<line x1="417.6" y1="727.6" x2="417.6" y2="730.6" stroke="#8c8c8c" stroke-width="0.8" />
<line x1="418.3" y1="727.6" x2="418.3" y2="732.6" stroke="#8c8c8c" stroke-width="1.1" />
<line x1="422.91" y1="727.6" x2="422.91" y2="730.6" stroke="#8c8c8c" stroke-width="0.8" />
<line x1="425.6" y1="727.6" x2="425.6" y2="730.6" stroke="#8c8c8c" stroke-width="0.8" />
<line x1="427.51" y1="727.6" x2="427.51" y2="730.6" stroke="#8c8c8c" stroke-width="0.8" />
<line x1="428.99" y1="727.6" x2="428.99" y2="730.6" stroke="#8c8c8c" stroke-width="0.8" />
<line x1="430.21" y1="727.6" x2="430.21" y2="730.6" stroke="#8c8c8c" stroke-width="0.8" />
<line x1="431.23" y1="727.6" x2="431.23" y2="730.6" stroke="#8c8c8c" stroke-width="0.8" />
<line x1="432.12" y1="727.6" x2="432.12" y2="730.6" stroke="#8c8c8c" stroke-width="0.8" />
<line x1="432.9" y1="727.6" x2="432.9" y2="730.6" stroke="#8c8c8c" stroke-width="0.8" />
<line x1="433.6" y1="727.6" x2="433.6" y2="732.6" stroke="#8c8c8c" stroke-width="1.1" />
<text x="341.8" y="745.2" font-size="13" text-anchor="middle" font-weight="normal" font-style="normal" >4</text>
<text x="357.1" y="745.2" font-size="13" text-anchor="middle" font-weight="normal" font-style="normal" >5</text>
<text x="372.4" y="745.2" font-size="13" text-anchor="middle" font-weight="normal" font-style="normal" >6</text>
<text x="387.7" y="745.2" font-size="13" text-anchor="middle" font-weight="normal" font-style="normal" >7</text>
<text x="403" y="745.2" font-size="13" text-anchor="middle" font-weight="normal" font-style="normal" >8</text>
<text x="418.3" y="745.2" font-size="13" text-anchor="middle" font-weight="normal" font-style="normal" >9</text>
<text x="387" y="761.2" font-size="13.4" text-anchor="middle" font-weight="normal" font-style="normal" >CP55,940</text>
<rect x="342.3" y="606.3" width="76" height="26.6" fill="#7f0040"/>
<line x1="418.3" y1="619.6" x2="421.82" y2="619.6" stroke="#7f0040" stroke-width="1.4" />
<line x1="421.82" y1="612.6" x2="421.82" y2="626.6" stroke="#7f0040" stroke-width="1.6" />
<rect x="342.3" y="646.5" width="55.35" height="26.6" fill="#7f0040"/>
<line x1="397.65" y1="659.8" x2="405.3" y2="659.8" stroke="#7f0040" stroke-width="1.4" />
<line x1="405.3" y1="652.8" x2="405.3" y2="666.8" stroke="#7f0040" stroke-width="1.6" />
<text transform="translate(429.6,659.8) rotate(-90)" class="pl" font-size="16" letter-spacing="0.8" text-anchor="middle" font-weight="normal" dy="9.3">****</text>
<rect x="342.3" y="686.7" width="76" height="26.6" fill="#7f0040"/>
<line x1="418.3" y1="700" x2="421.36" y2="700" stroke="#7f0040" stroke-width="1.4" />
<line x1="421.36" y1="693" x2="421.36" y2="707" stroke="#7f0040" stroke-width="1.6" />
<line x1="442.6" y1="592.4" x2="442.6" y2="727.5" stroke="#8c8c8c" stroke-width="1.1" />
<line x1="442.1" y1="727" x2="533.6" y2="727" stroke="#8c8c8c" stroke-width="1.1" />
<line x1="442.6" y1="727" x2="442.6" y2="732" stroke="#8c8c8c" stroke-width="1.1" />
<line x1="447.31" y1="727" x2="447.31" y2="730" stroke="#8c8c8c" stroke-width="0.8" />
<line x1="450.07" y1="727" x2="450.07" y2="730" stroke="#8c8c8c" stroke-width="0.8" />
<line x1="452.02" y1="727" x2="452.02" y2="730" stroke="#8c8c8c" stroke-width="0.8" />
<line x1="453.54" y1="727" x2="453.54" y2="730" stroke="#8c8c8c" stroke-width="0.8" />
<line x1="454.78" y1="727" x2="454.78" y2="730" stroke="#8c8c8c" stroke-width="0.8" />
<line x1="455.83" y1="727" x2="455.83" y2="730" stroke="#8c8c8c" stroke-width="0.8" />
<line x1="456.73" y1="727" x2="456.73" y2="730" stroke="#8c8c8c" stroke-width="0.8" />
<line x1="457.53" y1="727" x2="457.53" y2="730" stroke="#8c8c8c" stroke-width="0.8" />
<line x1="458.25" y1="727" x2="458.25" y2="732" stroke="#8c8c8c" stroke-width="1.1" />
<line x1="462.96" y1="727" x2="462.96" y2="730" stroke="#8c8c8c" stroke-width="0.8" />
<line x1="465.72" y1="727" x2="465.72" y2="730" stroke="#8c8c8c" stroke-width="0.8" />
<line x1="467.67" y1="727" x2="467.67" y2="730" stroke="#8c8c8c" stroke-width="0.8" />
<line x1="469.19" y1="727" x2="469.19" y2="730" stroke="#8c8c8c" stroke-width="0.8" />
<line x1="470.43" y1="727" x2="470.43" y2="730" stroke="#8c8c8c" stroke-width="0.8" />
<line x1="471.48" y1="727" x2="471.48" y2="730" stroke="#8c8c8c" stroke-width="0.8" />
<line x1="472.38" y1="727" x2="472.38" y2="730" stroke="#8c8c8c" stroke-width="0.8" />
<line x1="473.18" y1="727" x2="473.18" y2="730" stroke="#8c8c8c" stroke-width="0.8" />
<line x1="473.9" y1="727" x2="473.9" y2="732" stroke="#8c8c8c" stroke-width="1.1" />
<line x1="478.61" y1="727" x2="478.61" y2="730" stroke="#8c8c8c" stroke-width="0.8" />
<line x1="481.37" y1="727" x2="481.37" y2="730" stroke="#8c8c8c" stroke-width="0.8" />
<line x1="483.32" y1="727" x2="483.32" y2="730" stroke="#8c8c8c" stroke-width="0.8" />
<line x1="484.84" y1="727" x2="484.84" y2="730" stroke="#8c8c8c" stroke-width="0.8" />
<line x1="486.08" y1="727" x2="486.08" y2="730" stroke="#8c8c8c" stroke-width="0.8" />
<line x1="487.13" y1="727" x2="487.13" y2="730" stroke="#8c8c8c" stroke-width="0.8" />
<line x1="488.03" y1="727" x2="488.03" y2="730" stroke="#8c8c8c" stroke-width="0.8" />
<line x1="488.83" y1="727" x2="488.83" y2="730" stroke="#8c8c8c" stroke-width="0.8" />
<line x1="489.55" y1="727" x2="489.55" y2="732" stroke="#8c8c8c" stroke-width="1.1" />
<line x1="494.26" y1="727" x2="494.26" y2="730" stroke="#8c8c8c" stroke-width="0.8" />
<line x1="497.02" y1="727" x2="497.02" y2="730" stroke="#8c8c8c" stroke-width="0.8" />
<line x1="498.97" y1="727" x2="498.97" y2="730" stroke="#8c8c8c" stroke-width="0.8" />
<line x1="500.49" y1="727" x2="500.49" y2="730" stroke="#8c8c8c" stroke-width="0.8" />
<line x1="501.73" y1="727" x2="501.73" y2="730" stroke="#8c8c8c" stroke-width="0.8" />
<line x1="502.78" y1="727" x2="502.78" y2="730" stroke="#8c8c8c" stroke-width="0.8" />
<line x1="503.68" y1="727" x2="503.68" y2="730" stroke="#8c8c8c" stroke-width="0.8" />
<line x1="504.48" y1="727" x2="504.48" y2="730" stroke="#8c8c8c" stroke-width="0.8" />
<line x1="505.2" y1="727" x2="505.2" y2="732" stroke="#8c8c8c" stroke-width="1.1" />
<line x1="509.91" y1="727" x2="509.91" y2="730" stroke="#8c8c8c" stroke-width="0.8" />
<line x1="512.67" y1="727" x2="512.67" y2="730" stroke="#8c8c8c" stroke-width="0.8" />
<line x1="514.62" y1="727" x2="514.62" y2="730" stroke="#8c8c8c" stroke-width="0.8" />
<line x1="516.14" y1="727" x2="516.14" y2="730" stroke="#8c8c8c" stroke-width="0.8" />
<line x1="517.38" y1="727" x2="517.38" y2="730" stroke="#8c8c8c" stroke-width="0.8" />
<line x1="518.43" y1="727" x2="518.43" y2="730" stroke="#8c8c8c" stroke-width="0.8" />
<line x1="519.33" y1="727" x2="519.33" y2="730" stroke="#8c8c8c" stroke-width="0.8" />
<line x1="520.13" y1="727" x2="520.13" y2="730" stroke="#8c8c8c" stroke-width="0.8" />
<line x1="520.85" y1="727" x2="520.85" y2="732" stroke="#8c8c8c" stroke-width="1.1" />
<line x1="525.56" y1="727" x2="525.56" y2="730" stroke="#8c8c8c" stroke-width="0.8" />
<line x1="528.32" y1="727" x2="528.32" y2="730" stroke="#8c8c8c" stroke-width="0.8" />
<line x1="530.27" y1="727" x2="530.27" y2="730" stroke="#8c8c8c" stroke-width="0.8" />
<line x1="531.79" y1="727" x2="531.79" y2="730" stroke="#8c8c8c" stroke-width="0.8" />
<line x1="533.03" y1="727" x2="533.03" y2="730" stroke="#8c8c8c" stroke-width="0.8" />
<text x="442.6" y="744.6" font-size="13" text-anchor="middle" font-weight="normal" font-style="normal" >5</text>
<text x="458.25" y="744.6" font-size="13" text-anchor="middle" font-weight="normal" font-style="normal" >6</text>
<text x="473.9" y="744.6" font-size="13" text-anchor="middle" font-weight="normal" font-style="normal" >7</text>
<text x="489.55" y="744.6" font-size="13" text-anchor="middle" font-weight="normal" font-style="normal" >8</text>
<text x="505.2" y="744.6" font-size="13" text-anchor="middle" font-weight="normal" font-style="normal" >9</text>
<text x="520.85" y="744.6" font-size="13" text-anchor="middle" font-weight="normal" font-style="normal" >10</text>
<text x="487.6" y="760.6" font-size="13.4" text-anchor="middle" font-weight="normal" font-style="normal" >AM12033</text>
<line x1="511.46" y1="590.4" x2="511.46" y2="727" stroke="#1f7474" stroke-width="1.6" stroke-dasharray="2.4 1.8"/>
<rect x="443.1" y="605.7" width="67.58" height="26.6" fill="#127f7f"/>
<line x1="510.68" y1="619" x2="515.37" y2="619" stroke="#2c5f5f" stroke-width="1.4" />
<line x1="515.37" y1="612" x2="515.37" y2="626" stroke="#2c5f5f" stroke-width="1.6" />
<rect x="443.1" y="645.7" width="72.27" height="26.6" fill="#127f7f"/>
<line x1="515.37" y1="659" x2="523.2" y2="659" stroke="#2c5f5f" stroke-width="1.4" />
<line x1="523.2" y1="652" x2="523.2" y2="666" stroke="#2c5f5f" stroke-width="1.6" />
<rect x="443.1" y="686.1" width="63.66" height="26.6" fill="#127f7f"/>
<line x1="506.76" y1="699.4" x2="510.36" y2="699.4" stroke="#2c5f5f" stroke-width="1.4" />
<line x1="510.36" y1="692.4" x2="510.36" y2="706.4" stroke="#2c5f5f" stroke-width="1.6" />
<line x1="337.8" y1="619.6" x2="341.8" y2="619.6" stroke="#8c8c8c" stroke-width="1.0" />
<text x="334.8" y="624.7" font-size="12.5" text-anchor="end" font-weight="normal" font-style="normal" >WT CB2</text>
<line x1="337.8" y1="659.8" x2="341.8" y2="659.8" stroke="#8c8c8c" stroke-width="1.0" />
<text x="334.8" y="664.9" font-size="12.5" text-anchor="end">I110A<tspan font-size="9.5" dy="-5">3.29</tspan></text>
<line x1="337.8" y1="700" x2="341.8" y2="700" stroke="#8c8c8c" stroke-width="1.0" />
<text x="334.8" y="705.1" font-size="12.5" text-anchor="end">Y190A<tspan font-size="9.5" dy="-5">5.39</tspan></text>
<text class="pl" x="12.1" y="23.6" font-size="19.4" font-weight="bold">A<tspan font-weight="normal" dx="1.2">.</tspan></text>
<text class="pl" x="12.3" y="303.9" font-size="19.4" font-weight="bold">B<tspan font-weight="normal" dx="0.8">.</tspan></text>
<text class="pl" x="17.2" y="593.8" font-size="19.6" font-weight="bold">C<tspan font-weight="bold" dx="0.8">.</tspan></text>
<text class="pl" x="276.8" y="21.4" font-size="19.4" font-weight="bold">D<tspan font-weight="normal" dx="1.1">.</tspan></text>
<text class="pl" x="276.8" y="303.9" font-size="19.4" font-weight="bold">E<tspan font-weight="normal" dx="0.6">.</tspan></text>
<text class="pl" x="284.2" y="593.9" font-size="19.6" font-weight="bold">F<tspan font-weight="bold" dx="1.8">.</tspan></text>
<circle cx="79.6" cy="16.4" r="4.1" fill="#8c0509" stroke="#8c0509" stroke-width="0.5"/>
<text x="101.8" y="21.9" font-size="15.8" text-anchor="start" font-weight="normal" font-style="normal" >WT CB1</text>
<path d="M179.5 12.4 L183.5 16.4 L179.5 20.4 L175.5 16.4 Z" fill="none" stroke="#000" stroke-width="1.4"/>
<text x="201.5" y="21.9" font-size="15.8" text-anchor="start" font-weight="normal" font-style="normal" >Y275A</text>
<circle cx="79.6" cy="43.6" r="3.7" fill="none" stroke="#8c0509" stroke-width="1.65"/>
<text x="102.1" y="49.1" font-size="15.8" text-anchor="start" font-weight="normal" font-style="normal" >L193A</text>
<circle cx="84.4" cy="306.6" r="4.0" fill="#5c9c9c" stroke="#1b4e4e" stroke-width="1.1"/>
<text x="107" y="312.1" font-size="15.8" text-anchor="start" font-weight="normal" font-style="normal" >WT CB1</text>
<path d="M179.6 302.6 L183.6 306.6 L179.6 310.6 L175.6 306.6 Z" fill="none" stroke="#000" stroke-width="1.4"/>
<text x="202.5" y="312.1" font-size="15.8" text-anchor="start" font-weight="normal" font-style="normal" >Y275A</text>
<circle cx="84.4" cy="334" r="3.7" fill="none" stroke="#1b4e4e" stroke-width="1.4"/>
<text x="107.1" y="339.5" font-size="15.8" text-anchor="start" font-weight="normal" font-style="normal" >L193A</text>
<circle cx="352" cy="14.6" r="4.1" fill="#8c0509" stroke="#8c0509" stroke-width="0.5"/>
<text x="374" y="20.1" font-size="15.8" text-anchor="start" font-weight="normal" font-style="normal" >WT CB2</text>
<path d="M449.2 10.6 L453.2 14.6 L449.2 18.6 L445.2 14.6 Z" fill="none" stroke="#000" stroke-width="1.4"/>
<text x="471.5" y="20.1" font-size="15.8" text-anchor="start" font-weight="normal" font-style="normal" >Y190A</text>
<circle cx="352" cy="42" r="3.7" fill="none" stroke="#8c0509" stroke-width="1.65"/>
<text x="374.1" y="47.5" font-size="15.8" text-anchor="start" font-weight="normal" font-style="normal" >I110A</text>
<circle cx="355.6" cy="308.2" r="4.0" fill="#5c9c9c" stroke="#1b4e4e" stroke-width="1.1"/>
<text x="377.5" y="313.7" font-size="15.8" text-anchor="start" font-weight="normal" font-style="normal" >WT CB2</text>
<path d="M463.2 304.4 L467.2 308.4 L463.2 312.4 L459.2 308.4 Z" fill="none" stroke="#000" stroke-width="1.4"/>
<text x="485.9" y="313.9" font-size="15.8" text-anchor="start" font-weight="normal" font-style="normal" >Y190A</text>
<circle cx="355.6" cy="335.4" r="3.7" fill="none" stroke="#1b4e4e" stroke-width="1.4"/>
<text x="377.5" y="340.9" font-size="15.8" text-anchor="start" font-weight="normal" font-style="normal" >I110A</text>
<text x="132" y="781.8" font-size="14.2">pEC<tspan font-size="10.5" dy="4.5">50</tspan><tspan dy="-4.5"> (</tspan><tspan font-style="italic">95% CI</tspan>)</text>
<text x="394" y="781.8" font-size="14.2">pEC<tspan font-size="10.5" dy="4.5">50</tspan><tspan dy="-4.5"> (</tspan><tspan font-style="italic">95% CI</tspan>)</text>
</g></svg></body></html>
